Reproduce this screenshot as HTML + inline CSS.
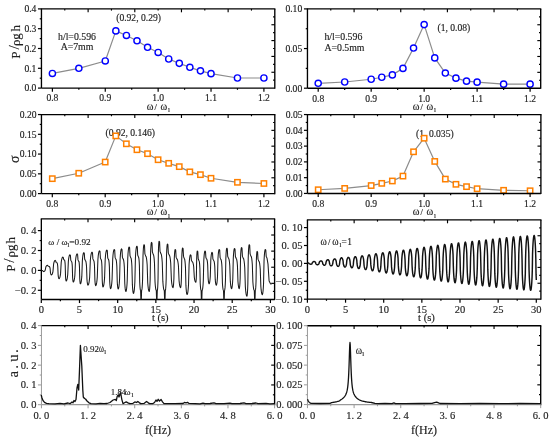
<!DOCTYPE html>
<html><head><meta charset="utf-8"><style>
html,body{margin:0;padding:0;background:#fff;}
svg{display:block;will-change:transform;}
text{fill:#222;stroke:#222;stroke-width:0.15px;}
</style></head><body>
<svg width="550" height="440" viewBox="0 0 550 440">
<rect width="550" height="440" fill="#fff"/>
<text x="116.2" y="20.8" font-size="9.6" text-anchor="start" font-family="Liberation Serif" >(0.92, 0.29)</text>
<polyline points="52.4,73.45 78.84,68.3 105.27,60.97 115.85,30.88 126.42,35.43 137,40.78 147.57,47.31 158.15,52.46 168.72,58.99 179.3,63.35 189.87,67.31 200.45,70.87 211.03,73.65 237.46,78 263.9,78" fill="none" stroke="#8c8c8c" stroke-width="1.2" stroke-linejoin="round" />
<circle cx="52.4" cy="73.45" r="3.1" fill="#fff" stroke="#0000ff" stroke-width="1.4"/>
<circle cx="78.84" cy="68.3" r="3.1" fill="#fff" stroke="#0000ff" stroke-width="1.4"/>
<circle cx="105.27" cy="60.97" r="3.1" fill="#fff" stroke="#0000ff" stroke-width="1.4"/>
<circle cx="115.85" cy="30.88" r="3.1" fill="#fff" stroke="#0000ff" stroke-width="1.4"/>
<circle cx="126.42" cy="35.43" r="3.1" fill="#fff" stroke="#0000ff" stroke-width="1.4"/>
<circle cx="137" cy="40.78" r="3.1" fill="#fff" stroke="#0000ff" stroke-width="1.4"/>
<circle cx="147.57" cy="47.31" r="3.1" fill="#fff" stroke="#0000ff" stroke-width="1.4"/>
<circle cx="158.15" cy="52.46" r="3.1" fill="#fff" stroke="#0000ff" stroke-width="1.4"/>
<circle cx="168.72" cy="58.99" r="3.1" fill="#fff" stroke="#0000ff" stroke-width="1.4"/>
<circle cx="179.3" cy="63.35" r="3.1" fill="#fff" stroke="#0000ff" stroke-width="1.4"/>
<circle cx="189.87" cy="67.31" r="3.1" fill="#fff" stroke="#0000ff" stroke-width="1.4"/>
<circle cx="200.45" cy="70.87" r="3.1" fill="#fff" stroke="#0000ff" stroke-width="1.4"/>
<circle cx="211.03" cy="73.65" r="3.1" fill="#fff" stroke="#0000ff" stroke-width="1.4"/>
<circle cx="237.46" cy="78" r="3.1" fill="#fff" stroke="#0000ff" stroke-width="1.4"/>
<circle cx="263.9" cy="78" r="3.1" fill="#fff" stroke="#0000ff" stroke-width="1.4"/>
<line x1="40.85" y1="8.9" x2="275.4" y2="8.9" stroke="#000" stroke-width="1.35"/>
<line x1="274.8" y1="8.9" x2="274.8" y2="88.7" stroke="#000" stroke-width="1.35"/>
<line x1="41.45" y1="8.9" x2="41.45" y2="88.1" stroke="#000" stroke-width="1.35"/>
<line x1="41.45" y1="88.1" x2="274.8" y2="88.1" stroke="#000" stroke-width="1.35"/>
<line x1="64.78" y1="8.9" x2="64.78" y2="10.6" stroke="#000" stroke-width="1.15"/>
<line x1="88.12" y1="8.9" x2="88.12" y2="12.3" stroke="#000" stroke-width="1.15"/>
<line x1="111.46" y1="8.9" x2="111.46" y2="10.6" stroke="#000" stroke-width="1.15"/>
<line x1="134.79" y1="8.9" x2="134.79" y2="12.3" stroke="#000" stroke-width="1.15"/>
<line x1="158.12" y1="8.9" x2="158.12" y2="10.6" stroke="#000" stroke-width="1.15"/>
<line x1="181.46" y1="8.9" x2="181.46" y2="12.3" stroke="#000" stroke-width="1.15"/>
<line x1="204.8" y1="8.9" x2="204.8" y2="10.6" stroke="#000" stroke-width="1.15"/>
<line x1="228.13" y1="8.9" x2="228.13" y2="12.3" stroke="#000" stroke-width="1.15"/>
<line x1="251.47" y1="8.9" x2="251.47" y2="10.6" stroke="#000" stroke-width="1.15"/>
<line x1="274.8" y1="16.82" x2="273.1" y2="16.82" stroke="#000" stroke-width="1.15"/>
<line x1="274.8" y1="24.74" x2="271.4" y2="24.74" stroke="#000" stroke-width="1.15"/>
<line x1="274.8" y1="32.66" x2="273.1" y2="32.66" stroke="#000" stroke-width="1.15"/>
<line x1="274.8" y1="40.58" x2="271.4" y2="40.58" stroke="#000" stroke-width="1.15"/>
<line x1="274.8" y1="48.5" x2="273.1" y2="48.5" stroke="#000" stroke-width="1.15"/>
<line x1="274.8" y1="56.42" x2="271.4" y2="56.42" stroke="#000" stroke-width="1.15"/>
<line x1="274.8" y1="64.34" x2="273.1" y2="64.34" stroke="#000" stroke-width="1.15"/>
<line x1="274.8" y1="72.26" x2="271.4" y2="72.26" stroke="#000" stroke-width="1.15"/>
<line x1="274.8" y1="80.18" x2="273.1" y2="80.18" stroke="#000" stroke-width="1.15"/>
<line x1="37.95" y1="88.1" x2="41.45" y2="88.1" stroke="#000" stroke-width="1.2"/>
<line x1="37.95" y1="68.3" x2="41.45" y2="68.3" stroke="#000" stroke-width="1.2"/>
<line x1="37.95" y1="48.5" x2="41.45" y2="48.5" stroke="#000" stroke-width="1.2"/>
<line x1="37.95" y1="28.7" x2="41.45" y2="28.7" stroke="#000" stroke-width="1.2"/>
<line x1="37.95" y1="8.9" x2="41.45" y2="8.9" stroke="#000" stroke-width="1.2"/>
<line x1="39.75" y1="78.2" x2="41.45" y2="78.2" stroke="#000" stroke-width="1.2"/>
<line x1="39.75" y1="58.4" x2="41.45" y2="58.4" stroke="#000" stroke-width="1.2"/>
<line x1="39.75" y1="38.6" x2="41.45" y2="38.6" stroke="#000" stroke-width="1.2"/>
<line x1="39.75" y1="18.8" x2="41.45" y2="18.8" stroke="#000" stroke-width="1.2"/>
<line x1="52.4" y1="88.1" x2="52.4" y2="91.7" stroke="#000" stroke-width="1.2"/>
<line x1="105.27" y1="88.1" x2="105.27" y2="91.7" stroke="#000" stroke-width="1.2"/>
<line x1="158.15" y1="88.1" x2="158.15" y2="91.7" stroke="#000" stroke-width="1.2"/>
<line x1="211.03" y1="88.1" x2="211.03" y2="91.7" stroke="#000" stroke-width="1.2"/>
<line x1="263.9" y1="88.1" x2="263.9" y2="91.7" stroke="#000" stroke-width="1.2"/>
<line x1="78.84" y1="88.1" x2="78.84" y2="89.8" stroke="#000" stroke-width="1.2"/>
<line x1="131.71" y1="88.1" x2="131.71" y2="89.8" stroke="#000" stroke-width="1.2"/>
<line x1="184.59" y1="88.1" x2="184.59" y2="89.8" stroke="#000" stroke-width="1.2"/>
<line x1="237.46" y1="88.1" x2="237.46" y2="89.8" stroke="#000" stroke-width="1.2"/>
<text x="36.4" y="91.4" font-size="9.6" text-anchor="end" font-family="Liberation Serif" >0.0</text>
<text x="36.4" y="71.6" font-size="9.6" text-anchor="end" font-family="Liberation Serif" >0.1</text>
<text x="36.4" y="51.8" font-size="9.6" text-anchor="end" font-family="Liberation Serif" >0.2</text>
<text x="36.4" y="32" font-size="9.6" text-anchor="end" font-family="Liberation Serif" >0.3</text>
<text x="36.4" y="12.2" font-size="9.6" text-anchor="end" font-family="Liberation Serif" >0.4</text>
<text x="52.4" y="101.4" font-size="9.6" text-anchor="middle" font-family="Liberation Serif" >0.8</text>
<text x="105.27" y="101.4" font-size="9.6" text-anchor="middle" font-family="Liberation Serif" >0.9</text>
<text x="158.15" y="101.4" font-size="9.6" text-anchor="middle" font-family="Liberation Serif" >1.0</text>
<text x="211.03" y="101.4" font-size="9.6" text-anchor="middle" font-family="Liberation Serif" >1.1</text>
<text x="263.9" y="101.4" font-size="9.6" text-anchor="middle" font-family="Liberation Serif" >1.2</text>
<text x="146.82" y="109.8" font-size="10.2" font-family="Liberation Serif">ω</text>
<text x="154.53" y="109.8" font-size="8.6" font-family="Liberation Serif">/</text>
<text x="160.43" y="109.8" font-size="10.2" font-family="Liberation Serif">ω</text>
<text x="168.03" y="112.2" font-size="7" font-family="Liberation Serif">l</text>
<text x="77" y="39.8" font-size="9.8" text-anchor="middle" font-family="Liberation Serif" >h/l=0.596</text>
<text x="77" y="50.4" font-size="9.8" text-anchor="middle" font-family="Liberation Serif" >A=7mm</text>
<text transform="translate(19.6,58.8) rotate(-90)" font-size="13" font-family="Liberation Serif"><tspan x="0">P</tspan><tspan x="9.3" font-size="15" dy="-0.6">/</tspan><tspan x="12.7" dy="0.6">ρg</tspan><tspan x="27.2">h</tspan></text>
<text x="437.5" y="30.8" font-size="9.6" text-anchor="start" font-family="Liberation Serif" >(1, 0.08)</text>
<polyline points="318.2,83.28 344.69,82.01 371.17,79.24 381.77,77.26 392.36,74.88 402.96,68.38 413.55,48.07 424.15,24.6 434.75,57.91 445.34,73.05 455.94,78.13 466.53,81.14 477.12,82.17 503.61,84.16 530.1,84.16" fill="none" stroke="#8c8c8c" stroke-width="1.2" stroke-linejoin="round" />
<circle cx="318.2" cy="83.28" r="3.1" fill="#fff" stroke="#0000ff" stroke-width="1.4"/>
<circle cx="344.69" cy="82.01" r="3.1" fill="#fff" stroke="#0000ff" stroke-width="1.4"/>
<circle cx="371.17" cy="79.24" r="3.1" fill="#fff" stroke="#0000ff" stroke-width="1.4"/>
<circle cx="381.77" cy="77.26" r="3.1" fill="#fff" stroke="#0000ff" stroke-width="1.4"/>
<circle cx="392.36" cy="74.88" r="3.1" fill="#fff" stroke="#0000ff" stroke-width="1.4"/>
<circle cx="402.96" cy="68.38" r="3.1" fill="#fff" stroke="#0000ff" stroke-width="1.4"/>
<circle cx="413.55" cy="48.07" r="3.1" fill="#fff" stroke="#0000ff" stroke-width="1.4"/>
<circle cx="424.15" cy="24.6" r="3.1" fill="#fff" stroke="#0000ff" stroke-width="1.4"/>
<circle cx="434.75" cy="57.91" r="3.1" fill="#fff" stroke="#0000ff" stroke-width="1.4"/>
<circle cx="445.34" cy="73.05" r="3.1" fill="#fff" stroke="#0000ff" stroke-width="1.4"/>
<circle cx="455.94" cy="78.13" r="3.1" fill="#fff" stroke="#0000ff" stroke-width="1.4"/>
<circle cx="466.53" cy="81.14" r="3.1" fill="#fff" stroke="#0000ff" stroke-width="1.4"/>
<circle cx="477.12" cy="82.17" r="3.1" fill="#fff" stroke="#0000ff" stroke-width="1.4"/>
<circle cx="503.61" cy="84.16" r="3.1" fill="#fff" stroke="#0000ff" stroke-width="1.4"/>
<circle cx="530.1" cy="84.16" r="3.1" fill="#fff" stroke="#0000ff" stroke-width="1.4"/>
<line x1="306.85" y1="8.9" x2="541.3" y2="8.9" stroke="#000" stroke-width="1.35"/>
<line x1="540.7" y1="8.9" x2="540.7" y2="88.8" stroke="#000" stroke-width="1.35"/>
<line x1="307.45" y1="8.9" x2="307.45" y2="88.2" stroke="#000" stroke-width="1.35"/>
<line x1="307.45" y1="88.2" x2="540.7" y2="88.2" stroke="#000" stroke-width="1.35"/>
<line x1="330.77" y1="8.9" x2="330.77" y2="10.6" stroke="#000" stroke-width="1.15"/>
<line x1="354.1" y1="8.9" x2="354.1" y2="12.3" stroke="#000" stroke-width="1.15"/>
<line x1="377.43" y1="8.9" x2="377.43" y2="10.6" stroke="#000" stroke-width="1.15"/>
<line x1="400.75" y1="8.9" x2="400.75" y2="12.3" stroke="#000" stroke-width="1.15"/>
<line x1="424.08" y1="8.9" x2="424.08" y2="10.6" stroke="#000" stroke-width="1.15"/>
<line x1="447.4" y1="8.9" x2="447.4" y2="12.3" stroke="#000" stroke-width="1.15"/>
<line x1="470.73" y1="8.9" x2="470.73" y2="10.6" stroke="#000" stroke-width="1.15"/>
<line x1="494.05" y1="8.9" x2="494.05" y2="12.3" stroke="#000" stroke-width="1.15"/>
<line x1="517.38" y1="8.9" x2="517.38" y2="10.6" stroke="#000" stroke-width="1.15"/>
<line x1="540.7" y1="16.83" x2="539" y2="16.83" stroke="#000" stroke-width="1.15"/>
<line x1="540.7" y1="24.76" x2="537.3" y2="24.76" stroke="#000" stroke-width="1.15"/>
<line x1="540.7" y1="32.69" x2="539" y2="32.69" stroke="#000" stroke-width="1.15"/>
<line x1="540.7" y1="40.62" x2="537.3" y2="40.62" stroke="#000" stroke-width="1.15"/>
<line x1="540.7" y1="48.55" x2="539" y2="48.55" stroke="#000" stroke-width="1.15"/>
<line x1="540.7" y1="56.48" x2="537.3" y2="56.48" stroke="#000" stroke-width="1.15"/>
<line x1="540.7" y1="64.41" x2="539" y2="64.41" stroke="#000" stroke-width="1.15"/>
<line x1="540.7" y1="72.34" x2="537.3" y2="72.34" stroke="#000" stroke-width="1.15"/>
<line x1="540.7" y1="80.27" x2="539" y2="80.27" stroke="#000" stroke-width="1.15"/>
<line x1="303.95" y1="88.2" x2="307.45" y2="88.2" stroke="#000" stroke-width="1.2"/>
<line x1="303.95" y1="48.55" x2="307.45" y2="48.55" stroke="#000" stroke-width="1.2"/>
<line x1="303.95" y1="8.9" x2="307.45" y2="8.9" stroke="#000" stroke-width="1.2"/>
<line x1="305.75" y1="68.38" x2="307.45" y2="68.38" stroke="#000" stroke-width="1.2"/>
<line x1="305.75" y1="28.73" x2="307.45" y2="28.73" stroke="#000" stroke-width="1.2"/>
<line x1="318.2" y1="88.2" x2="318.2" y2="91.8" stroke="#000" stroke-width="1.2"/>
<line x1="371.17" y1="88.2" x2="371.17" y2="91.8" stroke="#000" stroke-width="1.2"/>
<line x1="424.15" y1="88.2" x2="424.15" y2="91.8" stroke="#000" stroke-width="1.2"/>
<line x1="477.12" y1="88.2" x2="477.12" y2="91.8" stroke="#000" stroke-width="1.2"/>
<line x1="530.1" y1="88.2" x2="530.1" y2="91.8" stroke="#000" stroke-width="1.2"/>
<line x1="344.69" y1="88.2" x2="344.69" y2="89.9" stroke="#000" stroke-width="1.2"/>
<line x1="397.66" y1="88.2" x2="397.66" y2="89.9" stroke="#000" stroke-width="1.2"/>
<line x1="450.64" y1="88.2" x2="450.64" y2="89.9" stroke="#000" stroke-width="1.2"/>
<line x1="503.61" y1="88.2" x2="503.61" y2="89.9" stroke="#000" stroke-width="1.2"/>
<text x="302.2" y="91.5" font-size="9.6" text-anchor="end" font-family="Liberation Serif" >0.00</text>
<text x="302.2" y="51.85" font-size="9.6" text-anchor="end" font-family="Liberation Serif" >0.05</text>
<text x="302.2" y="12.2" font-size="9.6" text-anchor="end" font-family="Liberation Serif" >0.10</text>
<text x="318.2" y="101.5" font-size="9.6" text-anchor="middle" font-family="Liberation Serif" >0.8</text>
<text x="371.17" y="101.5" font-size="9.6" text-anchor="middle" font-family="Liberation Serif" >0.9</text>
<text x="424.15" y="101.5" font-size="9.6" text-anchor="middle" font-family="Liberation Serif" >1.0</text>
<text x="477.12" y="101.5" font-size="9.6" text-anchor="middle" font-family="Liberation Serif" >1.1</text>
<text x="530.1" y="101.5" font-size="9.6" text-anchor="middle" font-family="Liberation Serif" >1.2</text>
<text x="412.78" y="109.9" font-size="10.2" font-family="Liberation Serif">ω</text>
<text x="420.48" y="109.9" font-size="8.6" font-family="Liberation Serif">/</text>
<text x="426.38" y="109.9" font-size="10.2" font-family="Liberation Serif">ω</text>
<text x="433.98" y="112.3" font-size="7" font-family="Liberation Serif">l</text>
<text x="324.4" y="40.3" font-size="9.8" text-anchor="start" font-family="Liberation Serif" >h/l=0.596</text>
<text x="324.4" y="50.7" font-size="9.8" text-anchor="start" font-family="Liberation Serif" >A=0.5mm</text>

<text x="105.5" y="135.7" font-size="9.6" text-anchor="start" font-family="Liberation Serif" >(0.92, 0.146)</text>
<polyline points="52.3,178.66 78.75,173.24 105.2,162.06 115.78,135.89 126.36,143.8 136.94,149.73 147.52,153.68 158.1,159.73 168.68,163.32 179.26,166.64 189.84,171.86 200.42,174.67 211,178.26 237.45,182.3 263.9,183.48" fill="none" stroke="#8c8c8c" stroke-width="1.2" stroke-linejoin="round" />
<rect x="49.65" y="176.01" width="5.3" height="5.3" fill="#fff" stroke="#ff8000" stroke-width="1.5"/>
<rect x="76.1" y="170.59" width="5.3" height="5.3" fill="#fff" stroke="#ff8000" stroke-width="1.5"/>
<rect x="102.55" y="159.41" width="5.3" height="5.3" fill="#fff" stroke="#ff8000" stroke-width="1.5"/>
<rect x="113.13" y="133.24" width="5.3" height="5.3" fill="#fff" stroke="#ff8000" stroke-width="1.5"/>
<rect x="123.71" y="141.15" width="5.3" height="5.3" fill="#fff" stroke="#ff8000" stroke-width="1.5"/>
<rect x="134.29" y="147.08" width="5.3" height="5.3" fill="#fff" stroke="#ff8000" stroke-width="1.5"/>
<rect x="144.87" y="151.03" width="5.3" height="5.3" fill="#fff" stroke="#ff8000" stroke-width="1.5"/>
<rect x="155.45" y="157.08" width="5.3" height="5.3" fill="#fff" stroke="#ff8000" stroke-width="1.5"/>
<rect x="166.03" y="160.67" width="5.3" height="5.3" fill="#fff" stroke="#ff8000" stroke-width="1.5"/>
<rect x="176.61" y="163.99" width="5.3" height="5.3" fill="#fff" stroke="#ff8000" stroke-width="1.5"/>
<rect x="187.19" y="169.21" width="5.3" height="5.3" fill="#fff" stroke="#ff8000" stroke-width="1.5"/>
<rect x="197.77" y="172.02" width="5.3" height="5.3" fill="#fff" stroke="#ff8000" stroke-width="1.5"/>
<rect x="208.35" y="175.61" width="5.3" height="5.3" fill="#fff" stroke="#ff8000" stroke-width="1.5"/>
<rect x="234.8" y="179.65" width="5.3" height="5.3" fill="#fff" stroke="#ff8000" stroke-width="1.5"/>
<rect x="261.25" y="180.83" width="5.3" height="5.3" fill="#fff" stroke="#ff8000" stroke-width="1.5"/>
<line x1="40.85" y1="114.55" x2="275.4" y2="114.55" stroke="#000" stroke-width="1.35"/>
<line x1="274.8" y1="114.55" x2="274.8" y2="194.2" stroke="#000" stroke-width="1.35"/>
<line x1="41.45" y1="114.55" x2="41.45" y2="193.6" stroke="#000" stroke-width="1.35"/>
<line x1="41.45" y1="193.6" x2="274.8" y2="193.6" stroke="#000" stroke-width="1.35"/>
<line x1="64.78" y1="114.55" x2="64.78" y2="116.25" stroke="#000" stroke-width="1.15"/>
<line x1="88.12" y1="114.55" x2="88.12" y2="117.95" stroke="#000" stroke-width="1.15"/>
<line x1="111.46" y1="114.55" x2="111.46" y2="116.25" stroke="#000" stroke-width="1.15"/>
<line x1="134.79" y1="114.55" x2="134.79" y2="117.95" stroke="#000" stroke-width="1.15"/>
<line x1="158.12" y1="114.55" x2="158.12" y2="116.25" stroke="#000" stroke-width="1.15"/>
<line x1="181.46" y1="114.55" x2="181.46" y2="117.95" stroke="#000" stroke-width="1.15"/>
<line x1="204.8" y1="114.55" x2="204.8" y2="116.25" stroke="#000" stroke-width="1.15"/>
<line x1="228.13" y1="114.55" x2="228.13" y2="117.95" stroke="#000" stroke-width="1.15"/>
<line x1="251.47" y1="114.55" x2="251.47" y2="116.25" stroke="#000" stroke-width="1.15"/>
<line x1="274.8" y1="122.45" x2="273.1" y2="122.45" stroke="#000" stroke-width="1.15"/>
<line x1="274.8" y1="130.36" x2="271.4" y2="130.36" stroke="#000" stroke-width="1.15"/>
<line x1="274.8" y1="138.26" x2="273.1" y2="138.26" stroke="#000" stroke-width="1.15"/>
<line x1="274.8" y1="146.17" x2="271.4" y2="146.17" stroke="#000" stroke-width="1.15"/>
<line x1="274.8" y1="154.07" x2="273.1" y2="154.07" stroke="#000" stroke-width="1.15"/>
<line x1="274.8" y1="161.98" x2="271.4" y2="161.98" stroke="#000" stroke-width="1.15"/>
<line x1="274.8" y1="169.88" x2="273.1" y2="169.88" stroke="#000" stroke-width="1.15"/>
<line x1="274.8" y1="177.79" x2="271.4" y2="177.79" stroke="#000" stroke-width="1.15"/>
<line x1="274.8" y1="185.69" x2="273.1" y2="185.69" stroke="#000" stroke-width="1.15"/>
<line x1="37.95" y1="193.6" x2="41.45" y2="193.6" stroke="#000" stroke-width="1.2"/>
<line x1="37.95" y1="173.84" x2="41.45" y2="173.84" stroke="#000" stroke-width="1.2"/>
<line x1="37.95" y1="154.07" x2="41.45" y2="154.07" stroke="#000" stroke-width="1.2"/>
<line x1="37.95" y1="134.31" x2="41.45" y2="134.31" stroke="#000" stroke-width="1.2"/>
<line x1="37.95" y1="114.55" x2="41.45" y2="114.55" stroke="#000" stroke-width="1.2"/>
<line x1="39.75" y1="183.72" x2="41.45" y2="183.72" stroke="#000" stroke-width="1.2"/>
<line x1="39.75" y1="163.96" x2="41.45" y2="163.96" stroke="#000" stroke-width="1.2"/>
<line x1="39.75" y1="144.19" x2="41.45" y2="144.19" stroke="#000" stroke-width="1.2"/>
<line x1="39.75" y1="124.43" x2="41.45" y2="124.43" stroke="#000" stroke-width="1.2"/>
<line x1="52.3" y1="193.6" x2="52.3" y2="197.2" stroke="#000" stroke-width="1.2"/>
<line x1="105.2" y1="193.6" x2="105.2" y2="197.2" stroke="#000" stroke-width="1.2"/>
<line x1="158.1" y1="193.6" x2="158.1" y2="197.2" stroke="#000" stroke-width="1.2"/>
<line x1="211" y1="193.6" x2="211" y2="197.2" stroke="#000" stroke-width="1.2"/>
<line x1="263.9" y1="193.6" x2="263.9" y2="197.2" stroke="#000" stroke-width="1.2"/>
<line x1="78.75" y1="193.6" x2="78.75" y2="195.3" stroke="#000" stroke-width="1.2"/>
<line x1="131.65" y1="193.6" x2="131.65" y2="195.3" stroke="#000" stroke-width="1.2"/>
<line x1="184.55" y1="193.6" x2="184.55" y2="195.3" stroke="#000" stroke-width="1.2"/>
<line x1="237.45" y1="193.6" x2="237.45" y2="195.3" stroke="#000" stroke-width="1.2"/>
<text x="36.6" y="196.9" font-size="9.6" text-anchor="end" font-family="Liberation Serif" >0.00</text>
<text x="36.6" y="177.14" font-size="9.6" text-anchor="end" font-family="Liberation Serif" >0.05</text>
<text x="36.6" y="157.38" font-size="9.6" text-anchor="end" font-family="Liberation Serif" >0.10</text>
<text x="36.6" y="137.61" font-size="9.6" text-anchor="end" font-family="Liberation Serif" >0.15</text>
<text x="36.6" y="117.85" font-size="9.6" text-anchor="end" font-family="Liberation Serif" >0.20</text>
<text x="52.3" y="206.9" font-size="9.6" text-anchor="middle" font-family="Liberation Serif" >0.8</text>
<text x="105.2" y="206.9" font-size="9.6" text-anchor="middle" font-family="Liberation Serif" >0.9</text>
<text x="158.1" y="206.9" font-size="9.6" text-anchor="middle" font-family="Liberation Serif" >1.0</text>
<text x="211" y="206.9" font-size="9.6" text-anchor="middle" font-family="Liberation Serif" >1.1</text>
<text x="263.9" y="206.9" font-size="9.6" text-anchor="middle" font-family="Liberation Serif" >1.2</text>
<text x="146.82" y="215.3" font-size="10.2" font-family="Liberation Serif">ω</text>
<text x="154.53" y="215.3" font-size="8.6" font-family="Liberation Serif">/</text>
<text x="160.43" y="215.3" font-size="10.2" font-family="Liberation Serif">ω</text>
<text x="168.03" y="217.7" font-size="7" font-family="Liberation Serif">l</text>
<text transform="translate(19.1,159.2) rotate(-90)" font-size="14" text-anchor="middle" font-family="Liberation Serif">σ</text>
<text x="416.1" y="137" font-size="9.6" text-anchor="start" font-family="Liberation Serif" >(1, 0.035)</text>
<polyline points="318.2,189.74 344.69,188.4 371.17,185.56 381.77,183.35 392.36,180.98 402.96,176.09 413.55,151.79 424.15,138.22 434.75,161.42 445.34,179.09 455.94,184.3 466.53,186.66 477.12,188.72 503.61,190.29 530.1,190.77" fill="none" stroke="#8c8c8c" stroke-width="1.2" stroke-linejoin="round" />
<rect x="315.55" y="187.09" width="5.3" height="5.3" fill="#fff" stroke="#ff8000" stroke-width="1.5"/>
<rect x="342.04" y="185.75" width="5.3" height="5.3" fill="#fff" stroke="#ff8000" stroke-width="1.5"/>
<rect x="368.52" y="182.91" width="5.3" height="5.3" fill="#fff" stroke="#ff8000" stroke-width="1.5"/>
<rect x="379.12" y="180.7" width="5.3" height="5.3" fill="#fff" stroke="#ff8000" stroke-width="1.5"/>
<rect x="389.71" y="178.33" width="5.3" height="5.3" fill="#fff" stroke="#ff8000" stroke-width="1.5"/>
<rect x="400.31" y="173.44" width="5.3" height="5.3" fill="#fff" stroke="#ff8000" stroke-width="1.5"/>
<rect x="410.9" y="149.14" width="5.3" height="5.3" fill="#fff" stroke="#ff8000" stroke-width="1.5"/>
<rect x="421.5" y="135.57" width="5.3" height="5.3" fill="#fff" stroke="#ff8000" stroke-width="1.5"/>
<rect x="432.1" y="158.77" width="5.3" height="5.3" fill="#fff" stroke="#ff8000" stroke-width="1.5"/>
<rect x="442.69" y="176.44" width="5.3" height="5.3" fill="#fff" stroke="#ff8000" stroke-width="1.5"/>
<rect x="453.29" y="181.65" width="5.3" height="5.3" fill="#fff" stroke="#ff8000" stroke-width="1.5"/>
<rect x="463.88" y="184.01" width="5.3" height="5.3" fill="#fff" stroke="#ff8000" stroke-width="1.5"/>
<rect x="474.48" y="186.07" width="5.3" height="5.3" fill="#fff" stroke="#ff8000" stroke-width="1.5"/>
<rect x="500.96" y="187.64" width="5.3" height="5.3" fill="#fff" stroke="#ff8000" stroke-width="1.5"/>
<rect x="527.45" y="188.12" width="5.3" height="5.3" fill="#fff" stroke="#ff8000" stroke-width="1.5"/>
<line x1="306.85" y1="114.55" x2="541.5" y2="114.55" stroke="#000" stroke-width="1.35"/>
<line x1="540.9" y1="114.55" x2="540.9" y2="194.05" stroke="#000" stroke-width="1.35"/>
<line x1="307.45" y1="114.55" x2="307.45" y2="193.45" stroke="#000" stroke-width="1.35"/>
<line x1="307.45" y1="193.45" x2="540.9" y2="193.45" stroke="#000" stroke-width="1.35"/>
<line x1="330.79" y1="114.55" x2="330.79" y2="116.25" stroke="#000" stroke-width="1.15"/>
<line x1="354.14" y1="114.55" x2="354.14" y2="117.95" stroke="#000" stroke-width="1.15"/>
<line x1="377.49" y1="114.55" x2="377.49" y2="116.25" stroke="#000" stroke-width="1.15"/>
<line x1="400.83" y1="114.55" x2="400.83" y2="117.95" stroke="#000" stroke-width="1.15"/>
<line x1="424.17" y1="114.55" x2="424.17" y2="116.25" stroke="#000" stroke-width="1.15"/>
<line x1="447.52" y1="114.55" x2="447.52" y2="117.95" stroke="#000" stroke-width="1.15"/>
<line x1="470.87" y1="114.55" x2="470.87" y2="116.25" stroke="#000" stroke-width="1.15"/>
<line x1="494.21" y1="114.55" x2="494.21" y2="117.95" stroke="#000" stroke-width="1.15"/>
<line x1="517.55" y1="114.55" x2="517.55" y2="116.25" stroke="#000" stroke-width="1.15"/>
<line x1="540.9" y1="122.44" x2="539.2" y2="122.44" stroke="#000" stroke-width="1.15"/>
<line x1="540.9" y1="130.33" x2="537.5" y2="130.33" stroke="#000" stroke-width="1.15"/>
<line x1="540.9" y1="138.22" x2="539.2" y2="138.22" stroke="#000" stroke-width="1.15"/>
<line x1="540.9" y1="146.11" x2="537.5" y2="146.11" stroke="#000" stroke-width="1.15"/>
<line x1="540.9" y1="154" x2="539.2" y2="154" stroke="#000" stroke-width="1.15"/>
<line x1="540.9" y1="161.89" x2="537.5" y2="161.89" stroke="#000" stroke-width="1.15"/>
<line x1="540.9" y1="169.78" x2="539.2" y2="169.78" stroke="#000" stroke-width="1.15"/>
<line x1="540.9" y1="177.67" x2="537.5" y2="177.67" stroke="#000" stroke-width="1.15"/>
<line x1="540.9" y1="185.56" x2="539.2" y2="185.56" stroke="#000" stroke-width="1.15"/>
<line x1="303.95" y1="193.45" x2="307.45" y2="193.45" stroke="#000" stroke-width="1.2"/>
<line x1="303.95" y1="177.67" x2="307.45" y2="177.67" stroke="#000" stroke-width="1.2"/>
<line x1="303.95" y1="161.89" x2="307.45" y2="161.89" stroke="#000" stroke-width="1.2"/>
<line x1="303.95" y1="146.11" x2="307.45" y2="146.11" stroke="#000" stroke-width="1.2"/>
<line x1="303.95" y1="130.33" x2="307.45" y2="130.33" stroke="#000" stroke-width="1.2"/>
<line x1="303.95" y1="114.55" x2="307.45" y2="114.55" stroke="#000" stroke-width="1.2"/>
<line x1="305.75" y1="185.56" x2="307.45" y2="185.56" stroke="#000" stroke-width="1.2"/>
<line x1="305.75" y1="169.78" x2="307.45" y2="169.78" stroke="#000" stroke-width="1.2"/>
<line x1="305.75" y1="154" x2="307.45" y2="154" stroke="#000" stroke-width="1.2"/>
<line x1="305.75" y1="138.22" x2="307.45" y2="138.22" stroke="#000" stroke-width="1.2"/>
<line x1="305.75" y1="122.44" x2="307.45" y2="122.44" stroke="#000" stroke-width="1.2"/>
<line x1="318.2" y1="193.45" x2="318.2" y2="197.05" stroke="#000" stroke-width="1.2"/>
<line x1="371.17" y1="193.45" x2="371.17" y2="197.05" stroke="#000" stroke-width="1.2"/>
<line x1="424.15" y1="193.45" x2="424.15" y2="197.05" stroke="#000" stroke-width="1.2"/>
<line x1="477.12" y1="193.45" x2="477.12" y2="197.05" stroke="#000" stroke-width="1.2"/>
<line x1="530.1" y1="193.45" x2="530.1" y2="197.05" stroke="#000" stroke-width="1.2"/>
<line x1="344.69" y1="193.45" x2="344.69" y2="195.15" stroke="#000" stroke-width="1.2"/>
<line x1="397.66" y1="193.45" x2="397.66" y2="195.15" stroke="#000" stroke-width="1.2"/>
<line x1="450.64" y1="193.45" x2="450.64" y2="195.15" stroke="#000" stroke-width="1.2"/>
<line x1="503.61" y1="193.45" x2="503.61" y2="195.15" stroke="#000" stroke-width="1.2"/>
<text x="302.6" y="196.75" font-size="9.6" text-anchor="end" font-family="Liberation Serif" >0.00</text>
<text x="302.6" y="180.97" font-size="9.6" text-anchor="end" font-family="Liberation Serif" >0.01</text>
<text x="302.6" y="165.19" font-size="9.6" text-anchor="end" font-family="Liberation Serif" >0.02</text>
<text x="302.6" y="149.41" font-size="9.6" text-anchor="end" font-family="Liberation Serif" >0.03</text>
<text x="302.6" y="133.63" font-size="9.6" text-anchor="end" font-family="Liberation Serif" >0.04</text>
<text x="302.6" y="117.85" font-size="9.6" text-anchor="end" font-family="Liberation Serif" >0.05</text>
<text x="318.2" y="206.75" font-size="9.6" text-anchor="middle" font-family="Liberation Serif" >0.8</text>
<text x="371.17" y="206.75" font-size="9.6" text-anchor="middle" font-family="Liberation Serif" >0.9</text>
<text x="424.15" y="206.75" font-size="9.6" text-anchor="middle" font-family="Liberation Serif" >1.0</text>
<text x="477.12" y="206.75" font-size="9.6" text-anchor="middle" font-family="Liberation Serif" >1.1</text>
<text x="530.1" y="206.75" font-size="9.6" text-anchor="middle" font-family="Liberation Serif" >1.2</text>
<text x="412.87" y="215.15" font-size="10.2" font-family="Liberation Serif">ω</text>
<text x="420.57" y="215.15" font-size="8.6" font-family="Liberation Serif">/</text>
<text x="426.47" y="215.15" font-size="10.2" font-family="Liberation Serif">ω</text>
<text x="434.07" y="217.55" font-size="7" font-family="Liberation Serif">l</text>

<line x1="40.75" y1="218.9" x2="275.2" y2="218.9" stroke="#000" stroke-width="1.35"/>
<line x1="274.6" y1="218.9" x2="274.6" y2="300.05" stroke="#000" stroke-width="1.35"/>
<line x1="41.35" y1="218.9" x2="41.35" y2="299.45" stroke="#000" stroke-width="1.35"/>
<line x1="41.35" y1="299.45" x2="274.6" y2="299.45" stroke="#000" stroke-width="1.35"/>
<line x1="64.68" y1="218.9" x2="64.68" y2="220.6" stroke="#000" stroke-width="1.15"/>
<line x1="88" y1="218.9" x2="88" y2="222.3" stroke="#000" stroke-width="1.15"/>
<line x1="111.33" y1="218.9" x2="111.33" y2="220.6" stroke="#000" stroke-width="1.15"/>
<line x1="134.65" y1="218.9" x2="134.65" y2="222.3" stroke="#000" stroke-width="1.15"/>
<line x1="157.98" y1="218.9" x2="157.98" y2="220.6" stroke="#000" stroke-width="1.15"/>
<line x1="181.3" y1="218.9" x2="181.3" y2="222.3" stroke="#000" stroke-width="1.15"/>
<line x1="204.63" y1="218.9" x2="204.63" y2="220.6" stroke="#000" stroke-width="1.15"/>
<line x1="227.95" y1="218.9" x2="227.95" y2="222.3" stroke="#000" stroke-width="1.15"/>
<line x1="251.28" y1="218.9" x2="251.28" y2="220.6" stroke="#000" stroke-width="1.15"/>
<line x1="274.6" y1="226.96" x2="272.9" y2="226.96" stroke="#000" stroke-width="1.15"/>
<line x1="274.6" y1="235.01" x2="271.2" y2="235.01" stroke="#000" stroke-width="1.15"/>
<line x1="274.6" y1="243.06" x2="272.9" y2="243.06" stroke="#000" stroke-width="1.15"/>
<line x1="274.6" y1="251.12" x2="271.2" y2="251.12" stroke="#000" stroke-width="1.15"/>
<line x1="274.6" y1="259.18" x2="272.9" y2="259.18" stroke="#000" stroke-width="1.15"/>
<line x1="274.6" y1="267.23" x2="271.2" y2="267.23" stroke="#000" stroke-width="1.15"/>
<line x1="274.6" y1="275.28" x2="272.9" y2="275.28" stroke="#000" stroke-width="1.15"/>
<line x1="274.6" y1="283.34" x2="271.2" y2="283.34" stroke="#000" stroke-width="1.15"/>
<line x1="274.6" y1="291.39" x2="272.9" y2="291.39" stroke="#000" stroke-width="1.15"/>
<line x1="37.85" y1="290.3" x2="41.35" y2="290.3" stroke="#000" stroke-width="1.2"/>
<line x1="37.85" y1="270.4" x2="41.35" y2="270.4" stroke="#000" stroke-width="1.2"/>
<line x1="37.85" y1="250.5" x2="41.35" y2="250.5" stroke="#000" stroke-width="1.2"/>
<line x1="37.85" y1="230.6" x2="41.35" y2="230.6" stroke="#000" stroke-width="1.2"/>
<line x1="39.65" y1="280.35" x2="41.35" y2="280.35" stroke="#000" stroke-width="1.2"/>
<line x1="39.65" y1="260.45" x2="41.35" y2="260.45" stroke="#000" stroke-width="1.2"/>
<line x1="39.65" y1="240.55" x2="41.35" y2="240.55" stroke="#000" stroke-width="1.2"/>
<line x1="41.3" y1="299.45" x2="41.3" y2="303.05" stroke="#000" stroke-width="1.2"/>
<line x1="79.48" y1="299.45" x2="79.48" y2="303.05" stroke="#000" stroke-width="1.2"/>
<line x1="117.67" y1="299.45" x2="117.67" y2="303.05" stroke="#000" stroke-width="1.2"/>
<line x1="155.85" y1="299.45" x2="155.85" y2="303.05" stroke="#000" stroke-width="1.2"/>
<line x1="194.04" y1="299.45" x2="194.04" y2="303.05" stroke="#000" stroke-width="1.2"/>
<line x1="232.22" y1="299.45" x2="232.22" y2="303.05" stroke="#000" stroke-width="1.2"/>
<line x1="270.41" y1="299.45" x2="270.41" y2="303.05" stroke="#000" stroke-width="1.2"/>
<line x1="60.39" y1="299.45" x2="60.39" y2="301.15" stroke="#000" stroke-width="1.2"/>
<line x1="98.58" y1="299.45" x2="98.58" y2="301.15" stroke="#000" stroke-width="1.2"/>
<line x1="136.76" y1="299.45" x2="136.76" y2="301.15" stroke="#000" stroke-width="1.2"/>
<line x1="174.95" y1="299.45" x2="174.95" y2="301.15" stroke="#000" stroke-width="1.2"/>
<line x1="213.13" y1="299.45" x2="213.13" y2="301.15" stroke="#000" stroke-width="1.2"/>
<line x1="251.32" y1="299.45" x2="251.32" y2="301.15" stroke="#000" stroke-width="1.2"/>
<text x="36.6" y="293.7" font-size="10.5" text-anchor="end" font-family="Liberation Serif" >−0. 2</text>
<text x="36.6" y="273.8" font-size="10.5" text-anchor="end" font-family="Liberation Serif" >0. 0</text>
<text x="36.6" y="253.9" font-size="10.5" text-anchor="end" font-family="Liberation Serif" >0. 2</text>
<text x="36.6" y="234" font-size="10.5" text-anchor="end" font-family="Liberation Serif" >0. 4</text>
<text x="41.3" y="313.05" font-size="10.5" text-anchor="middle" font-family="Liberation Serif" >0</text>
<text x="79.48" y="313.05" font-size="10.5" text-anchor="middle" font-family="Liberation Serif" >5</text>
<text x="117.67" y="313.05" font-size="10.5" text-anchor="middle" font-family="Liberation Serif" >10</text>
<text x="155.85" y="313.05" font-size="10.5" text-anchor="middle" font-family="Liberation Serif" >15</text>
<text x="194.04" y="313.05" font-size="10.5" text-anchor="middle" font-family="Liberation Serif" >20</text>
<text x="232.22" y="313.05" font-size="10.5" text-anchor="middle" font-family="Liberation Serif" >25</text>
<text x="270.41" y="313.05" font-size="10.5" text-anchor="middle" font-family="Liberation Serif" >30</text>
<text x="160.28" y="321.3" font-size="10.6" text-anchor="middle" font-family="Liberation Serif" >t (s)</text>
<svg x="0" y="0" width="550" height="440" overflow="hidden"><defs><clipPath id="cE"><rect x="41.35" y="218.9" width="233.25" height="80.55"/></clipPath></defs></svg>
<polyline points="41.2,270.4 42.5,270.6 43.6,271.6 43.93,271.55 44.25,271.38 44.58,271.1 44.9,270.68 45.23,270.05 45.55,268.45 45.88,266.85 46.2,266.22 46.52,265.8 46.85,265.52 47.17,265.35 47.5,265.3 48,265.9 48.4,266.26 48.7,266.36 49.2,266.5 49.38,266.57 49.57,266.79 49.75,267.17 49.93,267.73 50.12,268.56 50.3,270.7 50.48,272.84 50.67,273.67 50.85,274.23 51.03,274.61 51.22,274.83 51.4,274.9 51.72,274.78 52.03,274.4 52.35,273.75 52.67,272.78 52.98,271.34 53.3,267.65 53.62,263.96 53.93,262.52 54.25,261.55 54.57,260.9 54.88,260.52 55.2,260.4 55.7,261 56.1,262.23 56.4,262.41 56.9,262.69 57.08,262.83 57.25,263.24 57.43,263.96 57.6,265.03 57.78,266.62 57.95,270.69 58.12,274.77 58.3,276.36 58.48,277.43 58.65,278.14 58.83,278.56 59,278.7 59.32,278.51 59.63,277.95 59.95,276.98 60.27,275.54 60.58,273.39 60.9,267.9 61.22,262.41 61.53,260.26 61.85,258.82 62.17,257.85 62.48,257.29 62.8,257.1 63.3,257.7 63.7,259.49 64,259.73 64.5,260.09 64.64,260.27 64.78,260.81 64.92,261.75 65.07,263.15 65.21,265.22 65.35,270.54 65.49,275.86 65.63,277.94 65.78,279.34 65.92,280.27 66.06,280.82 66.2,281 66.51,280.77 66.82,280.09 67.12,278.92 67.43,277.16 67.74,274.56 68.05,267.9 68.36,261.24 68.67,258.64 68.98,256.88 69.28,255.71 69.59,255.03 69.9,254.8 70.4,255.4 70.8,260.24 71.1,260.78 71.6,261.6 71.74,261.78 71.88,262.31 72.03,263.22 72.17,264.59 72.31,266.61 72.45,271.8 72.59,276.99 72.73,279.01 72.88,280.38 73.02,281.29 73.16,281.82 73.3,282 73.62,281.76 73.93,281.02 74.25,279.76 74.57,277.88 74.88,275.1 75.2,267.95 75.52,260.8 75.83,258.02 76.15,256.14 76.47,254.88 76.78,254.14 77.1,253.9 77.6,254.5 78,259.88 78.3,260.48 78.8,261.38 78.93,261.57 79.07,262.15 79.2,263.16 79.33,264.66 79.47,266.88 79.6,272.59 79.73,278.29 79.87,280.52 80,282.02 80.13,283.02 80.27,283.61 80.4,283.8 80.68,283.53 80.97,282.72 81.25,281.33 81.53,279.25 81.82,276.16 82.1,268.25 82.38,260.34 82.67,257.25 82.95,255.17 83.23,253.78 83.52,252.97 83.8,252.7 84.3,253.3 84.7,259.2 85,259.85 85.5,260.82 85.71,261.03 85.92,261.67 86.12,262.76 86.33,264.39 86.54,266.81 86.75,273.01 86.96,279.21 87.17,281.63 87.38,283.26 87.58,284.35 87.79,284.99 88,285.2 88.33,284.92 88.67,284.05 89,282.57 89.33,280.37 89.67,277.09 90,268.7 90.33,260.31 90.67,257.03 91,254.83 91.33,253.35 91.67,252.48 92,252.2 92.5,252.8 92.9,258.9 93.2,259.57 93.7,260.57 93.87,260.79 94.03,261.45 94.2,262.57 94.37,264.25 94.53,266.75 94.7,273.14 94.87,279.53 95.03,282.02 95.2,283.7 95.37,284.83 95.53,285.48 95.7,285.7 96.02,285.4 96.33,284.49 96.65,282.92 96.97,280.59 97.28,277.13 97.6,268.25 97.92,259.37 98.23,255.91 98.55,253.58 98.87,252.01 99.18,251.1 99.5,250.8 100,251.4 100.4,258.04 100.7,258.76 101.2,259.85 101.35,260.08 101.5,260.79 101.65,262.01 101.8,263.83 101.95,266.52 102.1,273.42 102.25,280.33 102.4,283.02 102.55,284.84 102.7,286.06 102.85,286.77 103,287 103.32,286.68 103.63,285.72 103.95,284.06 104.27,281.58 104.58,277.91 104.9,268.5 105.22,259.09 105.53,255.42 105.85,252.94 106.17,251.28 106.48,250.32 106.8,250 107.3,250.6 107.7,257.72 108,258.49 108.5,259.65 108.67,259.9 108.85,260.65 109.03,261.95 109.2,263.89 109.38,266.76 109.55,274.12 109.72,281.49 109.9,284.36 110.07,286.3 110.25,287.6 110.42,288.35 110.6,288.6 110.9,288.26 111.2,287.24 111.5,285.49 111.8,282.87 112.1,279 112.4,269.05 112.7,259.1 113,255.23 113.3,252.61 113.6,250.86 113.9,249.84 114.2,249.5 114.7,250.1 115.1,257.4 115.4,258.19 115.9,259.38 116.09,259.63 116.28,260.4 116.48,261.73 116.67,263.71 116.86,266.65 117.05,274.19 117.24,281.72 117.43,284.66 117.62,286.64 117.82,287.97 118.01,288.75 118.2,289 118.48,288.66 118.75,287.61 119.03,285.81 119.3,283.13 119.58,279.15 119.85,268.95 120.12,258.75 120.4,254.77 120.67,252.09 120.95,250.29 121.22,249.24 121.5,248.9 122,249.5 122.4,257.12 122.7,257.94 123.2,259.18 123.42,259.45 123.65,260.3 123.88,261.75 124.1,263.91 124.33,267.11 124.55,275.34 124.78,283.56 125,286.77 125.23,288.93 125.45,290.38 125.68,291.22 125.9,291.5 126.17,291.12 126.43,289.96 126.7,287.96 126.97,284.98 127.23,280.57 127.5,269.25 127.77,257.93 128.03,253.52 128.3,250.54 128.57,248.54 128.83,247.38 129.1,247 129.6,247.6 130,255.6 130.3,256.46 130.8,257.75 131.02,258.06 131.25,258.99 131.47,260.59 131.7,262.97 131.92,266.51 132.15,275.57 132.38,284.64 132.6,288.18 132.82,290.56 133.05,292.16 133.28,293.09 133.5,293.4 133.78,292.99 134.05,291.76 134.32,289.65 134.6,286.49 134.88,281.81 135.15,269.8 135.43,257.79 135.7,253.11 135.98,249.95 136.25,247.84 136.53,246.61 136.8,246.2 137.3,246.8 137.7,254.96 138,255.84 138.5,257.15 138.68,257.44 138.85,258.31 139.03,259.8 139.2,262.03 139.38,265.34 139.55,273.82 139.72,282.31 139.9,285.62 140.07,287.85 140.25,289.34 140.42,290.21 140.6,290.5 140.9,300.5 141.3,300.5 141.6,290.5 141.8,290.11 142,288.91 142.2,286.86 142.4,283.79 142.6,279.25 142.8,267.6 143,255.95 143.2,251.41 143.4,248.34 143.6,246.29 143.8,245.09 144,244.7 144.5,245.3 144.9,253.76 145.2,254.67 145.7,256.02 145.99,256.33 146.28,257.26 146.57,258.85 146.87,261.22 147.16,264.74 147.45,273.76 147.74,282.79 148.03,286.3 148.32,288.68 148.62,290.27 148.91,291.2 149.2,291.5 149.39,291.08 149.58,289.8 149.77,287.59 149.97,284.31 150.16,279.44 150.35,266.95 150.54,254.46 150.73,249.59 150.93,246.31 151.12,244.1 151.31,242.82 151.5,242.4 152,243 152.4,251.92 152.7,252.87 153.2,254.3 153.46,254.61 153.72,255.56 153.97,257.18 154.23,259.6 154.49,263.19 154.75,272.4 155.01,281.61 155.27,285.2 155.53,287.62 155.78,289.24 156.04,290.19 156.3,290.5 156.6,300.5 157,300.5 157.3,290.5 157.45,290.08 157.6,288.79 157.75,286.59 157.9,283.29 158.05,278.42 158.2,265.9 158.35,253.38 158.5,248.51 158.65,245.21 158.8,243.01 158.95,241.72 159.1,241.3 159.6,241.9 160,251.04 160.3,252.01 160.8,253.48 161.09,253.79 161.38,254.76 161.67,256.42 161.97,258.9 162.26,262.57 162.55,271.99 162.84,281.41 163.13,285.08 163.43,287.55 163.72,289.22 164.01,290.18 164.3,290.5 164.6,300.5 165,300.5 165.3,290.5 165.48,290.1 165.65,288.89 165.83,286.81 166,283.7 166.18,279.1 166.35,267.3 166.53,255.5 166.7,250.9 166.88,247.79 167.05,245.71 167.22,244.5 167.4,244.1 167.9,244.7 168.3,252.8 168.6,253.67 169.1,254.97 169.42,255.26 169.75,256.11 170.07,257.57 170.4,259.75 170.72,262.99 171.05,271.29 171.38,279.59 171.7,282.82 172.03,285 172.35,286.47 172.68,287.32 173,287.6 173.18,287.27 173.37,286.28 173.55,284.57 173.73,282.02 173.92,278.24 174.1,268.55 174.28,258.86 174.47,255.08 174.65,252.53 174.83,250.82 175.02,249.83 175.2,249.5 175.7,250.1 176.1,257.12 176.4,257.88 176.9,259.02 177.21,259.27 177.52,260.02 177.82,261.3 178.13,263.21 178.44,266.04 178.75,273.31 179.06,280.58 179.37,283.42 179.67,285.33 179.98,286.61 180.29,287.35 180.6,287.6 180.77,287.26 180.93,286.23 181.1,284.45 181.27,281.8 181.43,277.87 181.6,267.8 181.77,257.73 181.93,253.8 182.1,251.15 182.27,249.37 182.43,248.34 182.6,248 183.1,248.6 183.5,256.4 183.8,257.24 184.3,258.5 184.53,258.81 184.77,259.75 185,261.36 185.23,263.77 185.47,267.34 185.7,276.5 185.93,285.66 186.17,289.23 186.4,291.64 186.63,293.25 186.87,294.19 187.1,294.5 187.38,294.16 187.67,293.12 187.95,291.34 188.23,288.69 188.52,284.75 188.8,274.65 189.08,264.55 189.37,260.61 189.65,257.96 189.93,256.18 190.22,255.14 190.5,254.8 191,255.4 191.4,260.3 191.7,260.85 192.2,261.68 192.5,261.85 192.8,262.39 193.1,263.32 193.4,264.7 193.7,266.74 194,271.99 194.3,277.23 194.6,279.28 194.9,280.66 195.2,281.58 195.5,282.12 195.8,282.3 195.93,282.03 196.05,281.21 196.18,279.81 196.3,277.72 196.43,274.61 196.55,266.65 196.68,258.69 196.8,255.58 196.93,253.49 197.05,252.09 197.18,251.27 197.3,251 197.8,251.6 198.2,258.8 198.5,259.58 199,260.75 199.18,261.01 199.35,261.78 199.53,263.12 199.7,265.11 199.88,268.06 200.05,275.62 200.22,283.19 200.4,286.14 200.57,288.13 200.75,289.47 200.92,290.24 201.1,290.5 201.4,300.5 201.8,300.5 202.1,290.5 202.34,290.16 202.58,289.13 202.82,287.36 203.07,284.72 203.31,280.8 203.55,270.75 203.79,260.7 204.03,256.78 204.28,254.14 204.52,252.37 204.76,251.34 205,251 205.5,251.6 205.9,257.56 206.2,258.22 206.7,259.2 206.9,259.41 207.1,260.05 207.3,261.16 207.5,262.8 207.7,265.24 207.9,271.5 208.1,277.76 208.3,280.2 208.5,281.84 208.7,282.95 208.9,283.59 209.1,283.8 209.34,283.53 209.58,282.71 209.82,281.3 210.07,279.2 210.31,276.09 210.55,268.1 210.79,260.11 211.03,257 211.28,254.9 211.52,253.49 211.76,252.67 212,252.4 212.5,253 212.9,258.96 213.2,259.62 213.7,260.6 213.92,260.81 214.13,261.45 214.35,262.56 214.57,264.2 214.78,266.64 215,272.9 215.22,279.16 215.43,281.6 215.65,283.24 215.87,284.35 216.08,284.99 216.3,285.2 216.54,284.89 216.78,283.96 217.03,282.36 217.27,279.97 217.51,276.43 217.75,267.35 217.99,258.27 218.23,254.73 218.47,252.34 218.72,250.74 218.96,249.81 219.2,249.5 219.7,250.1 220.1,257.6 220.4,258.41 220.9,259.62 221.12,259.89 221.33,260.7 221.55,262.08 221.77,264.15 221.98,267.21 222.2,275.06 222.42,282.92 222.63,285.98 222.85,288.04 223.07,289.43 223.28,290.23 223.5,290.5 223.8,300.5 224.2,300.5 224.5,290.5 224.69,290.14 224.88,289.03 225.07,287.13 225.27,284.31 225.46,280.11 225.65,269.35 225.84,258.59 226.03,254.39 226.23,251.57 226.42,249.67 226.61,248.56 226.8,248.2 227.3,248.8 227.7,256.28 228,257.09 228.5,258.3 228.76,258.56 229.02,259.35 229.28,260.71 229.53,262.74 229.79,265.74 230.05,273.45 230.31,281.16 230.57,284.16 230.82,286.19 231.08,287.55 231.34,288.34 231.6,288.6 231.84,288.26 232.08,287.21 232.32,285.41 232.57,282.73 232.81,278.75 233.05,268.55 233.29,258.35 233.53,254.37 233.78,251.69 234.02,249.89 234.26,248.84 234.5,248.5 235,249.1 235.4,256.52 235.7,257.32 236.2,258.52 236.45,258.78 236.7,259.57 236.95,260.92 237.2,262.93 237.45,265.91 237.7,273.56 237.95,281.21 238.2,284.2 238.45,286.21 238.7,287.56 238.95,288.34 239.2,288.6 239.39,288.25 239.58,287.18 239.77,285.34 239.97,282.6 240.16,278.53 240.35,268.1 240.54,257.67 240.73,253.6 240.93,250.86 241.12,249.02 241.31,247.95 241.5,247.6 242,248.2 242.4,256.08 242.7,256.93 243.2,258.2 243.51,258.53 243.82,259.52 244.12,261.22 244.43,263.76 244.74,267.53 245.05,277.2 245.36,286.87 245.67,290.64 245.97,293.18 246.28,294.88 246.59,295.87 246.9,296.2 247.09,295.76 247.28,294.41 247.47,292.1 247.67,288.66 247.86,283.55 248.05,270.45 248.24,257.35 248.43,252.24 248.62,248.8 248.82,246.49 249.01,245.14 249.2,244.7 249.7,245.3 250.1,253.76 250.4,254.67 250.9,256.02 251.18,256.32 251.47,257.22 251.75,258.77 252.03,261.07 252.32,264.49 252.6,273.26 252.88,282.03 253.17,285.45 253.45,287.76 253.73,289.3 254.02,290.2 254.3,290.5 254.6,300.5 255,300.5 255.3,290.5 255.45,290.16 255.6,289.14 255.75,287.39 255.9,284.77 256.05,280.9 256.2,270.95 256.35,261 256.5,257.13 256.65,254.51 256.8,252.76 256.95,251.74 257.1,251.4 257.6,252 258,259.12 258.3,259.89 258.8,261.05 259.09,261.34 259.38,262.21 259.68,263.72 259.97,265.96 260.26,269.29 260.55,277.82 260.84,286.36 261.13,289.69 261.43,291.93 261.72,293.44 262.01,294.31 262.3,294.6 262.55,294.21 262.8,293.04 263.05,291.01 263.3,288 263.55,283.52 263.8,272.05 264.05,260.58 264.3,256.1 264.55,253.09 264.8,251.06 265.05,249.89 265.3,249.5 265.8,250.1 266.2,256.4 266.5,257.09 267,258.12 268,264.12 269.1,281 270.5,283.7 271.5,284.2" fill="none" stroke="#1a1a1a" stroke-width="1.05" stroke-linejoin="round" clip-path="url(#cE)"/>
<text x="48.3" y="244.7" font-size="9.2" font-family="Liberation Serif">ω / ω<tspan font-size="6.5" dy="1.8">l</tspan><tspan dy="-1.8">=0.92</tspan></text>
<text transform="translate(14.7,271.8) rotate(-90)" font-size="13" font-family="Liberation Serif"><tspan x="0">P</tspan><tspan x="9.0" font-size="15" dy="-0.6">/</tspan><tspan x="14.4" dy="0.6">ρg</tspan><tspan x="28.4">h</tspan></text>
<line x1="306.85" y1="219.9" x2="541.5" y2="219.9" stroke="#000" stroke-width="1.35"/>
<line x1="540.9" y1="219.9" x2="540.9" y2="299.7" stroke="#000" stroke-width="1.35"/>
<line x1="307.45" y1="219.9" x2="307.45" y2="299.1" stroke="#000" stroke-width="1.35"/>
<line x1="307.45" y1="299.1" x2="540.9" y2="299.1" stroke="#000" stroke-width="1.35"/>
<line x1="330.79" y1="219.9" x2="330.79" y2="221.6" stroke="#000" stroke-width="1.15"/>
<line x1="354.14" y1="219.9" x2="354.14" y2="223.3" stroke="#000" stroke-width="1.15"/>
<line x1="377.49" y1="219.9" x2="377.49" y2="221.6" stroke="#000" stroke-width="1.15"/>
<line x1="400.83" y1="219.9" x2="400.83" y2="223.3" stroke="#000" stroke-width="1.15"/>
<line x1="424.17" y1="219.9" x2="424.17" y2="221.6" stroke="#000" stroke-width="1.15"/>
<line x1="447.52" y1="219.9" x2="447.52" y2="223.3" stroke="#000" stroke-width="1.15"/>
<line x1="470.87" y1="219.9" x2="470.87" y2="221.6" stroke="#000" stroke-width="1.15"/>
<line x1="494.21" y1="219.9" x2="494.21" y2="223.3" stroke="#000" stroke-width="1.15"/>
<line x1="517.55" y1="219.9" x2="517.55" y2="221.6" stroke="#000" stroke-width="1.15"/>
<line x1="540.9" y1="227.82" x2="539.2" y2="227.82" stroke="#000" stroke-width="1.15"/>
<line x1="540.9" y1="235.74" x2="537.5" y2="235.74" stroke="#000" stroke-width="1.15"/>
<line x1="540.9" y1="243.66" x2="539.2" y2="243.66" stroke="#000" stroke-width="1.15"/>
<line x1="540.9" y1="251.58" x2="537.5" y2="251.58" stroke="#000" stroke-width="1.15"/>
<line x1="540.9" y1="259.5" x2="539.2" y2="259.5" stroke="#000" stroke-width="1.15"/>
<line x1="540.9" y1="267.42" x2="537.5" y2="267.42" stroke="#000" stroke-width="1.15"/>
<line x1="540.9" y1="275.34" x2="539.2" y2="275.34" stroke="#000" stroke-width="1.15"/>
<line x1="540.9" y1="283.26" x2="537.5" y2="283.26" stroke="#000" stroke-width="1.15"/>
<line x1="540.9" y1="291.18" x2="539.2" y2="291.18" stroke="#000" stroke-width="1.15"/>
<line x1="303.95" y1="299.2" x2="307.45" y2="299.2" stroke="#000" stroke-width="1.2"/>
<line x1="303.95" y1="281.3" x2="307.45" y2="281.3" stroke="#000" stroke-width="1.2"/>
<line x1="303.95" y1="263.4" x2="307.45" y2="263.4" stroke="#000" stroke-width="1.2"/>
<line x1="303.95" y1="245.5" x2="307.45" y2="245.5" stroke="#000" stroke-width="1.2"/>
<line x1="303.95" y1="227.6" x2="307.45" y2="227.6" stroke="#000" stroke-width="1.2"/>
<line x1="305.75" y1="290.25" x2="307.45" y2="290.25" stroke="#000" stroke-width="1.2"/>
<line x1="305.75" y1="272.35" x2="307.45" y2="272.35" stroke="#000" stroke-width="1.2"/>
<line x1="305.75" y1="254.45" x2="307.45" y2="254.45" stroke="#000" stroke-width="1.2"/>
<line x1="305.75" y1="236.55" x2="307.45" y2="236.55" stroke="#000" stroke-width="1.2"/>
<line x1="307.4" y1="299.1" x2="307.4" y2="302.7" stroke="#000" stroke-width="1.2"/>
<line x1="345.55" y1="299.1" x2="345.55" y2="302.7" stroke="#000" stroke-width="1.2"/>
<line x1="383.7" y1="299.1" x2="383.7" y2="302.7" stroke="#000" stroke-width="1.2"/>
<line x1="421.85" y1="299.1" x2="421.85" y2="302.7" stroke="#000" stroke-width="1.2"/>
<line x1="460" y1="299.1" x2="460" y2="302.7" stroke="#000" stroke-width="1.2"/>
<line x1="498.15" y1="299.1" x2="498.15" y2="302.7" stroke="#000" stroke-width="1.2"/>
<line x1="536.3" y1="299.1" x2="536.3" y2="302.7" stroke="#000" stroke-width="1.2"/>
<line x1="326.47" y1="299.1" x2="326.47" y2="300.8" stroke="#000" stroke-width="1.2"/>
<line x1="364.62" y1="299.1" x2="364.62" y2="300.8" stroke="#000" stroke-width="1.2"/>
<line x1="402.77" y1="299.1" x2="402.77" y2="300.8" stroke="#000" stroke-width="1.2"/>
<line x1="440.92" y1="299.1" x2="440.92" y2="300.8" stroke="#000" stroke-width="1.2"/>
<line x1="479.07" y1="299.1" x2="479.07" y2="300.8" stroke="#000" stroke-width="1.2"/>
<line x1="517.22" y1="299.1" x2="517.22" y2="300.8" stroke="#000" stroke-width="1.2"/>
<text x="302.6" y="302.6" font-size="10.5" text-anchor="end" font-family="Liberation Serif" >−0. 10</text>
<text x="302.6" y="284.7" font-size="10.5" text-anchor="end" font-family="Liberation Serif" >−0. 05</text>
<text x="302.6" y="266.8" font-size="10.5" text-anchor="end" font-family="Liberation Serif" >0. 00</text>
<text x="302.6" y="248.9" font-size="10.5" text-anchor="end" font-family="Liberation Serif" >0. 05</text>
<text x="302.6" y="231" font-size="10.5" text-anchor="end" font-family="Liberation Serif" >0. 10</text>
<text x="307.4" y="312.7" font-size="10.5" text-anchor="middle" font-family="Liberation Serif" >0</text>
<text x="345.55" y="312.7" font-size="10.5" text-anchor="middle" font-family="Liberation Serif" >5</text>
<text x="383.7" y="312.7" font-size="10.5" text-anchor="middle" font-family="Liberation Serif" >10</text>
<text x="421.85" y="312.7" font-size="10.5" text-anchor="middle" font-family="Liberation Serif" >15</text>
<text x="460" y="312.7" font-size="10.5" text-anchor="middle" font-family="Liberation Serif" >20</text>
<text x="498.15" y="312.7" font-size="10.5" text-anchor="middle" font-family="Liberation Serif" >25</text>
<text x="536.3" y="312.7" font-size="10.5" text-anchor="middle" font-family="Liberation Serif" >30</text>
<text x="426.47" y="321.3" font-size="10.6" text-anchor="middle" font-family="Liberation Serif" >t (s)</text>
<polyline points="307.3,262.99 307.55,262.95 307.8,262.92 308.05,262.91 308.3,262.94 308.55,263 308.8,263.25 309.05,263.53 309.3,263.69 309.55,263.82 309.8,263.94 310.05,264.04 310.3,264.12 310.55,264.18 310.8,264.2 311.05,264.2 311.3,264.15 311.55,264.06 311.8,263.9 312.05,263.64 312.3,262.87 312.55,262.43 312.8,262.14 313.05,261.91 313.3,261.74 313.55,261.63 313.8,261.55 314.05,261.52 314.3,261.54 314.55,261.6 314.8,261.72 315.05,261.89 315.3,262.14 315.55,262.53 315.8,263.53 316.05,263.95 316.3,264.23 316.55,264.44 316.8,264.6 317.05,264.7 317.3,264.75 317.55,264.76 317.8,264.71 318.05,264.6 318.3,264.44 318.55,264.21 318.8,263.88 319.05,263.35 319.3,262.23 319.55,261.79 319.8,261.48 320.05,261.25 320.3,261.07 320.55,260.96 320.8,260.9 321.05,260.89 321.3,260.92 321.55,261.02 321.8,261.2 322.05,261.46 322.3,261.85 322.55,262.66 322.8,263.8 323.05,264.26 323.3,264.61 323.55,264.87 323.8,265.06 324.05,265.19 324.3,265.25 324.55,265.23 324.8,265.14 325.05,264.97 325.3,264.71 325.55,264.34 325.8,263.78 326.05,262.22 326.3,261.37 326.55,260.84 326.8,260.44 327.05,260.13 327.3,259.9 327.55,259.76 327.8,259.7 328.05,259.73 328.3,259.86 328.55,260.09 328.8,260.43 329.05,260.9 329.3,261.62 329.55,263.5 329.8,264.3 330.05,264.84 330.3,265.24 330.55,265.53 330.8,265.72 331.05,265.82 331.3,265.83 331.55,265.74 331.8,265.56 332.05,265.26 332.3,264.85 332.55,264.26 332.8,263.33 333.05,261.28 333.3,260.49 333.55,259.93 333.8,259.51 334.05,259.21 334.3,259.01 334.55,258.91 334.8,258.91 335.05,259.01 335.3,259.21 335.55,259.54 335.8,260.01 336.05,260.69 336.3,261.99 336.55,264.02 336.8,264.81 337.05,265.39 337.3,265.82 337.55,266.14 337.8,266.33 338.05,266.42 338.3,266.38 338.55,266.23 338.8,265.94 339.05,265.52 339.3,264.91 339.55,264.03 339.8,261.61 340.05,260.22 340.3,259.39 340.55,258.78 340.8,258.32 341.05,258 341.3,257.82 341.55,257.78 341.8,257.87 342.05,258.09 342.3,258.45 342.55,258.97 342.8,259.7 343.05,260.77 343.3,263.57 343.55,264.8 343.8,265.6 344.05,266.2 344.3,266.63 344.55,266.92 344.8,267.07 345.05,267.09 345.3,266.96 345.55,266.7 345.8,266.28 346.05,265.69 346.3,264.87 346.55,263.58 346.8,260.65 347.05,259.53 347.3,258.75 347.55,258.17 347.8,257.76 348.05,257.5 348.3,257.38 348.55,257.4 348.8,257.55 349.05,257.86 349.3,258.34 349.55,259.01 349.8,259.96 350.05,261.66 350.3,264.51 350.55,265.6 350.8,266.38 351.05,266.96 351.3,267.37 351.55,267.63 351.8,267.74 352.05,267.69 352.3,267.48 352.55,267.11 352.8,266.56 353.05,265.78 353.3,264.67 353.55,261.63 353.8,259.78 354.05,258.72 354.3,257.95 354.55,257.38 354.8,256.98 355.05,256.75 355.3,256.67 355.55,256.77 355.8,257.03 356.05,257.47 356.3,258.12 356.55,259.02 356.8,260.36 357.05,263.93 357.3,265.54 357.55,266.6 357.8,267.38 358.05,267.96 358.3,268.35 358.55,268.56 358.8,268.6 359.05,268.46 359.3,268.13 359.55,267.6 359.8,266.85 360.05,265.8 360.3,264.15 360.55,260.3 360.8,258.79 361.05,257.74 361.3,256.96 361.55,256.4 361.8,256.03 362.05,255.85 362.3,255.86 362.55,256.06 362.8,256.46 363.05,257.08 363.3,257.95 363.55,259.19 363.8,261.35 364.05,265.25 364.3,266.72 364.55,267.77 364.8,268.56 365.05,269.12 365.3,269.48 365.55,269.63 365.8,269.58 366.05,269.31 366.3,268.83 366.55,268.1 366.8,267.07 367.05,265.61 367.3,261.67 367.55,259.06 367.8,257.62 368.05,256.56 368.3,255.78 368.55,255.24 368.8,254.91 369.05,254.81 369.3,254.93 369.55,255.28 369.8,255.86 370.05,256.72 370.3,257.92 370.55,259.67 370.8,264.4 371.05,266.62 371.3,268.05 371.55,269.1 371.8,269.88 372.05,270.4 372.3,270.69 372.55,270.75 372.8,270.56 373.05,270.13 373.3,269.44 373.55,268.45 373.8,267.07 374.05,264.93 374.3,259.8 374.55,257.75 374.8,256.35 375.05,255.31 375.3,254.55 375.55,254.06 375.8,253.82 376.05,253.83 376.3,254.09 376.55,254.62 376.8,255.43 377.05,256.58 377.3,258.19 377.55,260.91 377.8,266.11 378.05,268.06 378.3,269.44 378.55,270.47 378.8,271.21 379.05,271.67 379.3,271.87 379.55,271.79 379.8,271.45 380.05,270.82 380.3,269.88 380.55,268.57 380.8,266.7 381.05,261.86 381.3,258.26 381.55,256.38 381.8,255.02 382.05,254.02 382.3,253.31 382.55,252.9 382.8,252.77 383.05,252.92 383.3,253.36 383.55,254.1 383.8,255.19 384.05,256.69 384.3,258.89 384.55,264.84 384.8,267.73 385.05,269.55 385.3,270.89 385.55,271.88 385.8,272.54 386.05,272.91 386.3,272.98 386.55,272.75 386.8,272.21 387.05,271.35 387.3,270.11 387.55,268.39 387.8,265.78 388.05,259.34 388.3,256.73 388.55,254.96 388.8,253.65 389.05,252.71 389.3,252.1 389.55,251.8 389.8,251.81 390.05,252.14 390.3,252.8 390.55,253.81 390.8,255.21 391.05,257.18 391.3,260.42 391.55,266.89 391.8,269.31 392.05,271.02 392.3,272.28 392.55,273.18 392.8,273.74 393.05,273.97 393.3,273.88 393.55,273.46 393.8,272.7 394.05,271.56 394.3,269.98 394.55,267.76 394.8,262.68 395.05,257.58 395.3,255.31 395.55,253.66 395.8,252.45 396.05,251.61 396.3,251.12 396.55,250.96 396.8,251.14 397.05,251.67 397.3,252.55 397.55,253.84 397.8,255.61 398.05,258.17 398.3,265.13 398.55,268.65 398.8,270.82 399.05,272.41 399.3,273.57 399.55,274.35 399.8,274.78 400.05,274.87 400.3,274.6 400.55,273.97 400.8,272.96 401.05,271.52 401.3,269.54 401.55,266.55 401.8,259.07 402.05,255.97 402.3,253.9 402.55,252.37 402.8,251.27 403.05,250.56 403.3,250.2 403.55,250.21 403.8,250.58 404.05,251.33 404.3,252.48 404.55,254.09 404.8,256.32 405.05,259.94 405.3,267.49 405.55,270.33 405.8,272.32 406.05,273.79 406.3,274.83 406.55,275.49 406.8,275.77 407.05,275.67 407.3,275.2 407.55,274.33 407.8,273.04 408.05,271.25 408.3,268.73 408.55,263.78 408.8,257.06 409.05,254.4 409.3,252.5 409.55,251.1 409.8,250.12 410.05,249.55 410.3,249.35 410.55,249.53 410.8,250.12 411.05,251.11 411.3,252.56 411.55,254.57 411.8,257.45 412.05,265.32 412.3,269.51 412.55,272.04 412.8,273.89 413.05,275.24 413.3,276.16 413.55,276.67 413.8,276.79 414.05,276.5 414.3,275.79 414.55,274.65 414.8,273.02 415.05,270.77 415.3,267.41 415.55,258.8 415.8,255.15 416.05,252.73 416.3,250.95 416.55,249.66 416.8,248.81 417.05,248.38 417.3,248.37 417.55,248.78 417.8,249.62 418.05,250.92 418.3,252.76 418.55,255.3 418.8,259.35 419.05,268.16 419.3,271.5 419.55,273.83 419.8,275.55 420.05,276.78 420.3,277.55 420.55,277.9 420.8,277.81 421.05,277.28 421.3,276.3 421.55,274.83 421.8,272.78 422.05,269.91 422.3,264.57 422.55,256.4 422.8,253.27 423.05,251.04 423.3,249.39 423.55,248.24 423.8,247.55 424.05,247.3 424.3,247.51 424.55,248.17 424.8,249.31 425.05,250.97 425.3,253.26 425.55,256.54 425.8,265.47 426.05,270.51 426.3,273.47 426.55,275.62 426.8,277.2 427.05,278.28 427.3,278.88 427.55,279.02 427.8,278.7 428.05,277.91 428.3,276.61 428.55,274.75 428.8,272.19 429.05,268.4 429.3,258.53 429.55,254.23 429.8,251.42 430.05,249.35 430.3,247.85 430.55,246.86 430.8,246.36 431.05,246.33 431.3,246.78 431.55,247.73 431.8,249.21 432.05,251.28 432.3,254.16 432.55,258.67 432.8,268.82 433.05,272.72 433.3,275.41 433.55,277.4 433.8,278.82 434.05,279.72 434.3,280.13 434.55,280.04 434.8,279.45 435.05,278.35 435.3,276.69 435.55,274.38 435.8,271.15 436.05,265.39 436.3,255.77 436.55,252.15 436.8,249.58 437.05,247.68 437.3,246.36 437.55,245.57 437.8,245.29 438.05,245.52 438.3,246.26 438.55,247.54 438.8,249.4 439.05,251.98 439.3,255.63 439.55,265.47 439.8,271.42 440.05,274.79 440.3,277.24 440.55,279.03 440.8,280.25 441.05,280.93 441.3,281.1 441.55,280.74 441.8,279.85 442.05,278.41 442.3,276.34 442.55,273.5 442.8,269.34 443.05,258.37 443.3,253.44 443.55,250.27 443.8,247.94 444.05,246.26 444.3,245.14 444.55,244.57 444.8,244.53 445.05,245.03 445.3,246.07 445.55,247.69 445.8,249.97 446.05,253.12 446.3,257.99 446.55,269.27 446.8,273.65 447.05,276.66 447.3,278.86 447.55,280.44 447.8,281.44 448.05,281.89 448.3,281.8 448.55,281.17 448.8,279.96 449.05,278.15 449.3,275.64 449.55,272.14 449.8,266.1 450.05,255.3 450.3,251.29 450.55,248.44 450.8,246.35 451.05,244.89 451.3,244 451.55,243.67 451.8,243.89 452.05,244.68 452.3,246.06 452.55,248.07 452.8,250.84 453.05,254.76 453.3,265.16 453.55,272.01 453.8,275.74 454.05,278.45 454.3,280.42 454.55,281.77 454.8,282.54 455.05,282.74 455.3,282.37 455.55,281.42 455.8,279.87 456.05,277.65 456.3,274.59 456.55,270.14 456.8,258.27 457.05,252.75 457.3,249.25 457.55,246.69 457.8,244.83 458.05,243.6 458.3,242.96 458.55,242.9 458.8,243.42 459.05,244.53 459.3,246.27 459.55,248.73 459.8,252.1 460.05,257.26 460.3,269.55 460.55,274.41 460.8,277.71 461.05,280.13 461.3,281.86 461.55,282.97 461.8,283.48 462.05,283.4 462.3,282.73 462.55,281.44 462.8,279.5 463.05,276.81 463.3,273.07 463.55,266.79 463.8,254.89 464.05,250.47 464.3,247.36 464.55,245.08 464.8,243.47 465.05,242.49 465.3,242.12 465.55,242.34 465.8,243.18 466.05,244.64 466.3,246.78 466.55,249.74 466.8,253.91 467.05,264.59 467.3,272.52 467.55,276.6 467.8,279.54 468.05,281.7 468.3,283.17 468.55,284.02 468.8,284.25 469.05,283.88 469.3,282.88 469.55,281.23 469.8,278.86 470.05,275.61 470.3,270.92 470.55,258.28 470.8,252.17 471.05,248.36 471.3,245.57 471.55,243.56 471.8,242.21 472.05,241.5 472.3,241.41 472.55,241.95 472.8,243.12 473.05,244.96 473.3,247.56 473.55,251.14 473.8,256.55 474.05,269.75 474.3,275.07 474.55,278.65 474.8,281.28 475.05,283.16 475.3,284.37 475.55,284.94 475.8,284.88 476.05,284.19 476.3,282.83 476.55,280.78 476.8,277.93 477.05,273.98 477.3,267.49 477.55,254.55 477.8,249.74 478.05,246.36 478.3,243.89 478.55,242.14 478.8,241.07 479.05,240.64 479.3,240.86 479.55,241.73 479.8,243.27 480.05,245.53 480.3,248.66 480.55,253.05 480.8,263 481.05,272.97 481.3,277.41 481.55,280.59 481.8,282.92 482.05,284.53 482.3,285.46 482.55,285.73 482.8,285.35 483.05,284.31 483.3,282.58 483.55,280.08 483.8,276.65 484.05,271.71 484.3,258.36 484.55,251.62 484.8,247.49 485.05,244.48 485.3,242.3 485.55,240.83 485.8,240.05 486.05,239.93 486.3,240.47 486.55,241.7 486.8,243.64 487.05,246.38 487.3,250.15 487.55,255.8 487.8,269.9 488.05,275.72 488.3,279.59 488.55,282.43 488.8,284.47 489.05,285.79 489.3,286.42 489.55,286.38 489.8,285.66 490.05,284.25 490.3,282.09 490.55,279.08 490.8,274.92 491.05,268.21 491.3,254.24 491.55,249.01 491.8,245.37 492.05,242.69 492.3,240.8 492.55,239.62 492.8,239.15 493.05,239.35 493.3,240.25 493.55,241.86 493.8,244.25 494.05,247.55 494.3,252.16 494.55,261.18 494.8,273.41 495.05,278.21 495.3,281.65 495.55,284.17 495.8,285.91 496.05,286.93 496.3,287.25 496.55,286.87 496.8,285.79 497.05,283.97 497.3,281.34 497.55,277.72 497.8,272.56 498.05,258.52 498.3,251.08 498.55,246.61 498.8,243.36 499.05,241 499.3,239.42 499.55,238.55 499.8,238.4 500.05,238.95 500.3,240.23 500.55,242.27 500.8,245.15 501.05,249.12 501.3,255.01 501.55,270.01 501.8,276.35 502.05,280.53 502.3,283.59 502.55,285.79 502.8,287.23 503.05,287.93 503.3,287.91 503.55,287.18 503.8,285.7 504.05,283.43 504.3,280.27 504.55,275.9 504.8,268.97 505.05,253.97 505.3,248.3 505.55,244.37 505.8,241.48 506.05,239.44 506.3,238.17 506.55,237.63 506.8,237.82 507.05,238.75 507.3,240.43 507.55,242.94 507.8,246.4 508.05,251.24 508.3,260.17 508.55,273.81 508.8,279 509.05,282.7 509.3,285.41 509.55,287.29 509.8,288.41 510.05,288.77 510.3,288.4 510.55,287.28 510.8,285.37 511.05,282.61 511.3,278.82 511.55,273.42 511.8,258.79 512.05,250.56 512.3,245.75 512.55,242.26 512.8,239.72 513.05,238.01 513.3,237.07 513.55,236.89 513.8,237.46 514.05,238.79 514.3,240.93 514.55,243.96 514.8,248.11 515.05,254.22 515.3,270.04 515.55,276.9 515.8,281.37 516.05,284.64 516.3,286.99 516.55,288.52 516.8,289.28 517.05,289.29 517.3,288.53 517.55,286.99 517.8,284.63 518.05,281.33 518.3,276.79 518.55,269.7 518.8,253.81 519.05,247.74 519.3,243.57 519.55,240.51 519.8,238.34 520.05,236.98 520.3,236.4 520.55,236.58 520.8,237.53 521.05,239.28 521.3,241.87 521.55,245.46 521.8,250.45 522.05,259.3 522.3,274.03 522.55,279.54 522.8,283.44 523.05,286.3 523.3,288.29 523.55,289.47 523.8,289.87 524.05,289.5 524.3,288.35 524.55,286.39 524.8,283.55 525.05,279.65 525.3,274.12 525.55,259.27 525.8,250.32 526.05,245.25 526.3,241.59 526.55,238.93 526.8,237.12 527.05,236.12 527.3,235.9 527.55,236.46 527.8,237.81 528.05,240 528.3,243.1 528.55,247.35 528.8,253.56 529.05,269.89 529.3,277.2 529.55,281.9 529.8,285.33 530.05,287.8 530.3,289.43 530.55,290.25 530.8,290.28 531.05,289.53 531.3,287.97 531.55,285.55 531.8,282.17 532.05,277.53 532.3,270.36 532.55,253.8 532.8,247.38 533.05,243 533.3,239.79 533.55,237.5 533.8,236.06 534.05,235.43 534.3,235.59 534.55,236.54 534.8,238.32 535.05,240.97 535.3,244.65 535.55,249.75 535.8,258.51 536.05,274.15 536.3,279.95" fill="none" stroke="#111" stroke-width="1.45" stroke-linejoin="round" />
<text x="320.4" y="244.7" font-size="9.6" font-family="Liberation Serif">ω</text>
<text x="328.1" y="244.7" font-size="8.6" font-family="Liberation Serif">/</text>
<text x="332.2" y="244.7" font-size="9.6" font-family="Liberation Serif">ω</text>
<text x="339.6" y="246.5" font-size="6.6" font-family="Liberation Serif">l</text>
<text x="341.5" y="244.7" font-size="9.4" font-family="Liberation Serif">=</text>
<text x="347.3" y="244.7" font-size="9.4" font-family="Liberation Serif">1</text>
<line x1="40.85" y1="325.6" x2="275.2" y2="325.6" stroke="#000" stroke-width="1.35"/>
<line x1="274.6" y1="325.6" x2="274.6" y2="405.3" stroke="#000" stroke-width="1.35"/>
<line x1="41.45" y1="325.6" x2="41.45" y2="404.7" stroke="#9a9a9a" stroke-width="1.0"/>
<line x1="41.45" y1="404.7" x2="274.6" y2="404.7" stroke="#9a9a9a" stroke-width="1.2"/>
<line x1="64.77" y1="325.6" x2="64.77" y2="327.3" stroke="#000" stroke-width="1.15"/>
<line x1="88.08" y1="325.6" x2="88.08" y2="329" stroke="#000" stroke-width="1.15"/>
<line x1="111.4" y1="325.6" x2="111.4" y2="327.3" stroke="#000" stroke-width="1.15"/>
<line x1="134.71" y1="325.6" x2="134.71" y2="329" stroke="#000" stroke-width="1.15"/>
<line x1="158.03" y1="325.6" x2="158.03" y2="327.3" stroke="#000" stroke-width="1.15"/>
<line x1="181.34" y1="325.6" x2="181.34" y2="329" stroke="#000" stroke-width="1.15"/>
<line x1="204.66" y1="325.6" x2="204.66" y2="327.3" stroke="#000" stroke-width="1.15"/>
<line x1="227.97" y1="325.6" x2="227.97" y2="329" stroke="#000" stroke-width="1.15"/>
<line x1="251.29" y1="325.6" x2="251.29" y2="327.3" stroke="#000" stroke-width="1.15"/>
<line x1="274.6" y1="335.49" x2="272.9" y2="335.49" stroke="#000" stroke-width="1.15"/>
<line x1="274.6" y1="345.38" x2="271.2" y2="345.38" stroke="#000" stroke-width="1.15"/>
<line x1="274.6" y1="355.26" x2="272.9" y2="355.26" stroke="#000" stroke-width="1.15"/>
<line x1="274.6" y1="365.15" x2="271.2" y2="365.15" stroke="#000" stroke-width="1.15"/>
<line x1="274.6" y1="375.04" x2="272.9" y2="375.04" stroke="#000" stroke-width="1.15"/>
<line x1="274.6" y1="384.93" x2="271.2" y2="384.93" stroke="#000" stroke-width="1.15"/>
<line x1="274.6" y1="394.81" x2="272.9" y2="394.81" stroke="#000" stroke-width="1.15"/>
<line x1="37.95" y1="404.7" x2="41.45" y2="404.7" stroke="#9a9a9a" stroke-width="1.0"/>
<line x1="37.95" y1="384.93" x2="41.45" y2="384.93" stroke="#9a9a9a" stroke-width="1.0"/>
<line x1="37.95" y1="365.15" x2="41.45" y2="365.15" stroke="#9a9a9a" stroke-width="1.0"/>
<line x1="37.95" y1="345.38" x2="41.45" y2="345.38" stroke="#9a9a9a" stroke-width="1.0"/>
<line x1="37.95" y1="325.6" x2="41.45" y2="325.6" stroke="#9a9a9a" stroke-width="1.0"/>
<line x1="39.75" y1="394.81" x2="41.45" y2="394.81" stroke="#9a9a9a" stroke-width="1.0"/>
<line x1="39.75" y1="375.04" x2="41.45" y2="375.04" stroke="#9a9a9a" stroke-width="1.0"/>
<line x1="39.75" y1="355.26" x2="41.45" y2="355.26" stroke="#9a9a9a" stroke-width="1.0"/>
<line x1="39.75" y1="335.49" x2="41.45" y2="335.49" stroke="#9a9a9a" stroke-width="1.0"/>
<line x1="41.45" y1="404.7" x2="41.45" y2="408.3" stroke="#9a9a9a" stroke-width="1.0"/>
<line x1="88.08" y1="404.7" x2="88.08" y2="408.3" stroke="#9a9a9a" stroke-width="1.0"/>
<line x1="134.71" y1="404.7" x2="134.71" y2="408.3" stroke="#9a9a9a" stroke-width="1.0"/>
<line x1="181.34" y1="404.7" x2="181.34" y2="408.3" stroke="#9a9a9a" stroke-width="1.0"/>
<line x1="227.97" y1="404.7" x2="227.97" y2="408.3" stroke="#9a9a9a" stroke-width="1.0"/>
<line x1="274.6" y1="404.7" x2="274.6" y2="408.3" stroke="#9a9a9a" stroke-width="1.0"/>
<line x1="64.77" y1="404.7" x2="64.77" y2="406.4" stroke="#9a9a9a" stroke-width="1.0"/>
<line x1="111.4" y1="404.7" x2="111.4" y2="406.4" stroke="#9a9a9a" stroke-width="1.0"/>
<line x1="158.03" y1="404.7" x2="158.03" y2="406.4" stroke="#9a9a9a" stroke-width="1.0"/>
<line x1="204.66" y1="404.7" x2="204.66" y2="406.4" stroke="#9a9a9a" stroke-width="1.0"/>
<line x1="251.29" y1="404.7" x2="251.29" y2="406.4" stroke="#9a9a9a" stroke-width="1.0"/>
<text x="36.4" y="408.1" font-size="10.5" text-anchor="end" font-family="Liberation Serif" >0. 0</text>
<text x="36.4" y="388.32" font-size="10.5" text-anchor="end" font-family="Liberation Serif" >0. 1</text>
<text x="36.4" y="368.55" font-size="10.5" text-anchor="end" font-family="Liberation Serif" >0. 2</text>
<text x="36.4" y="348.77" font-size="10.5" text-anchor="end" font-family="Liberation Serif" >0. 3</text>
<text x="36.4" y="329" font-size="10.5" text-anchor="end" font-family="Liberation Serif" >0. 4</text>
<text x="41.45" y="418.9" font-size="10.5" text-anchor="middle" font-family="Liberation Serif" >0. 0</text>
<text x="88.08" y="418.9" font-size="10.5" text-anchor="middle" font-family="Liberation Serif" >1. 2</text>
<text x="134.71" y="418.9" font-size="10.5" text-anchor="middle" font-family="Liberation Serif" >2. 4</text>
<text x="181.34" y="418.9" font-size="10.5" text-anchor="middle" font-family="Liberation Serif" >3. 6</text>
<text x="227.97" y="418.9" font-size="10.5" text-anchor="middle" font-family="Liberation Serif" >4. 8</text>
<text x="274.6" y="418.9" font-size="10.5" text-anchor="middle" font-family="Liberation Serif" >6. 0</text>
<text x="158.03" y="434.1" font-size="12" text-anchor="middle" font-family="Liberation Serif" >f(Hz)</text>
<polyline points="41.2,395 42,398 43,400.5 44.5,402.3 46.5,403.3 49,403.6 55,403.8 60,403.4 64,403.8 68,403 70,403.7 72,402 73,402.8 74,400.5 75,401.5 76,399.5 77,388 77.8,384.5 78.7,390 79.5,370 80.4,345.5 81.8,366 82.8,390 83.3,397 84.5,398.5 85.5,399 87,401 89,402.8 91,403.6 96,403.8 100,403.4 104,403.6 107,403.5 110,402.5 113.1,400 115.3,399.3 116.3,400.5 117.2,396.4 118.2,395 119,397 120.4,392.7 121.2,396 121.8,399.3 123,403.6 124.5,402.8 126.2,401.9 128,402.8 129.8,403.6 133,403.3 134.9,401.9 136.5,402.5 137.8,401.5 139.2,402.6 140.7,403.6 144,403.4 146.5,401.5 148,402.6 149.5,403.6 153,403.6 154.5,402.5 156,400 157,401.3 158.2,399.3 159.5,401 161.1,399.5 162.5,401.8 164,403.6 170,403.6 175,403.7 183,403.5 184.5,402.4 186,402.8 187.5,402.3 189,403.4 195,403.6 200,403.8 203,403.2 205,403.7 210,403.5 214,402.8 216,403.6 224,403.7 230,403.2 232,403.7 240,403.5 244,402.9 246,403.6 252,403.5 256,403 258,403.7 266,403.4 270,403.8 274.5,403.6" fill="none" stroke="#111" stroke-width="1.3" stroke-linejoin="round" />
<text x="83.3" y="351.7" font-size="9" font-family="Liberation Serif">0.92</text>
<text transform="translate(99.1,351.7) scale(0.78,1)" font-size="9.6" font-family="Liberation Serif">ω</text>
<text x="104.3" y="353.6" font-size="6.6" font-family="Liberation Serif">l</text>
<text x="110.8" y="395.4" font-size="8.8" font-family="Liberation Serif">1.84</text>
<text x="124.6" y="395.4" font-size="9.2" font-family="Liberation Serif">ω</text>
<text x="131.5" y="397.2" font-size="6.6" font-family="Liberation Serif">l</text>
<text transform="translate(18.2,377.4) rotate(-90)" font-size="14.5" font-family="Liberation Serif"><tspan x="0">a</tspan><tspan x="8.6">.</tspan><tspan x="15.7">u</tspan><tspan x="24.3">.</tspan></text>
<line x1="306.85" y1="325.7" x2="541.3" y2="325.7" stroke="#000" stroke-width="1.35"/>
<line x1="540.7" y1="325.7" x2="540.7" y2="405.15" stroke="#000" stroke-width="1.35"/>
<line x1="307.45" y1="325.7" x2="307.45" y2="404.55" stroke="#9a9a9a" stroke-width="1.0"/>
<line x1="307.45" y1="404.55" x2="540.7" y2="404.55" stroke="#9a9a9a" stroke-width="1.2"/>
<line x1="330.77" y1="325.7" x2="330.77" y2="327.4" stroke="#000" stroke-width="1.15"/>
<line x1="354.1" y1="325.7" x2="354.1" y2="329.1" stroke="#000" stroke-width="1.15"/>
<line x1="377.43" y1="325.7" x2="377.43" y2="327.4" stroke="#000" stroke-width="1.15"/>
<line x1="400.75" y1="325.7" x2="400.75" y2="329.1" stroke="#000" stroke-width="1.15"/>
<line x1="424.08" y1="325.7" x2="424.08" y2="327.4" stroke="#000" stroke-width="1.15"/>
<line x1="447.4" y1="325.7" x2="447.4" y2="329.1" stroke="#000" stroke-width="1.15"/>
<line x1="470.73" y1="325.7" x2="470.73" y2="327.4" stroke="#000" stroke-width="1.15"/>
<line x1="494.05" y1="325.7" x2="494.05" y2="329.1" stroke="#000" stroke-width="1.15"/>
<line x1="517.38" y1="325.7" x2="517.38" y2="327.4" stroke="#000" stroke-width="1.15"/>
<line x1="540.7" y1="335.56" x2="539" y2="335.56" stroke="#000" stroke-width="1.15"/>
<line x1="540.7" y1="345.41" x2="537.3" y2="345.41" stroke="#000" stroke-width="1.15"/>
<line x1="540.7" y1="355.27" x2="539" y2="355.27" stroke="#000" stroke-width="1.15"/>
<line x1="540.7" y1="365.12" x2="537.3" y2="365.12" stroke="#000" stroke-width="1.15"/>
<line x1="540.7" y1="374.98" x2="539" y2="374.98" stroke="#000" stroke-width="1.15"/>
<line x1="540.7" y1="384.84" x2="537.3" y2="384.84" stroke="#000" stroke-width="1.15"/>
<line x1="540.7" y1="394.69" x2="539" y2="394.69" stroke="#000" stroke-width="1.15"/>
<line x1="303.95" y1="404.55" x2="307.45" y2="404.55" stroke="#9a9a9a" stroke-width="1.0"/>
<line x1="303.95" y1="384.84" x2="307.45" y2="384.84" stroke="#9a9a9a" stroke-width="1.0"/>
<line x1="303.95" y1="365.12" x2="307.45" y2="365.12" stroke="#9a9a9a" stroke-width="1.0"/>
<line x1="303.95" y1="345.41" x2="307.45" y2="345.41" stroke="#9a9a9a" stroke-width="1.0"/>
<line x1="303.95" y1="325.7" x2="307.45" y2="325.7" stroke="#9a9a9a" stroke-width="1.0"/>
<line x1="305.75" y1="394.69" x2="307.45" y2="394.69" stroke="#9a9a9a" stroke-width="1.0"/>
<line x1="305.75" y1="374.98" x2="307.45" y2="374.98" stroke="#9a9a9a" stroke-width="1.0"/>
<line x1="305.75" y1="355.27" x2="307.45" y2="355.27" stroke="#9a9a9a" stroke-width="1.0"/>
<line x1="305.75" y1="335.56" x2="307.45" y2="335.56" stroke="#9a9a9a" stroke-width="1.0"/>
<line x1="307.45" y1="404.55" x2="307.45" y2="408.15" stroke="#9a9a9a" stroke-width="1.0"/>
<line x1="354.1" y1="404.55" x2="354.1" y2="408.15" stroke="#9a9a9a" stroke-width="1.0"/>
<line x1="400.75" y1="404.55" x2="400.75" y2="408.15" stroke="#9a9a9a" stroke-width="1.0"/>
<line x1="447.4" y1="404.55" x2="447.4" y2="408.15" stroke="#9a9a9a" stroke-width="1.0"/>
<line x1="494.05" y1="404.55" x2="494.05" y2="408.15" stroke="#9a9a9a" stroke-width="1.0"/>
<line x1="540.7" y1="404.55" x2="540.7" y2="408.15" stroke="#9a9a9a" stroke-width="1.0"/>
<line x1="330.77" y1="404.55" x2="330.77" y2="406.25" stroke="#9a9a9a" stroke-width="1.0"/>
<line x1="377.43" y1="404.55" x2="377.43" y2="406.25" stroke="#9a9a9a" stroke-width="1.0"/>
<line x1="424.08" y1="404.55" x2="424.08" y2="406.25" stroke="#9a9a9a" stroke-width="1.0"/>
<line x1="470.73" y1="404.55" x2="470.73" y2="406.25" stroke="#9a9a9a" stroke-width="1.0"/>
<line x1="517.38" y1="404.55" x2="517.38" y2="406.25" stroke="#9a9a9a" stroke-width="1.0"/>
<text x="302.6" y="407.95" font-size="10.5" text-anchor="end" font-family="Liberation Serif" >0. 000</text>
<text x="302.6" y="388.24" font-size="10.5" text-anchor="end" font-family="Liberation Serif" >0. 025</text>
<text x="302.6" y="368.52" font-size="10.5" text-anchor="end" font-family="Liberation Serif" >0. 050</text>
<text x="302.6" y="348.81" font-size="10.5" text-anchor="end" font-family="Liberation Serif" >0. 075</text>
<text x="302.6" y="329.1" font-size="10.5" text-anchor="end" font-family="Liberation Serif" >0. 100</text>
<text x="307.45" y="418.75" font-size="10.5" text-anchor="middle" font-family="Liberation Serif" >0. 0</text>
<text x="354.1" y="418.75" font-size="10.5" text-anchor="middle" font-family="Liberation Serif" >1. 2</text>
<text x="400.75" y="418.75" font-size="10.5" text-anchor="middle" font-family="Liberation Serif" >2. 4</text>
<text x="447.4" y="418.75" font-size="10.5" text-anchor="middle" font-family="Liberation Serif" >3. 6</text>
<text x="494.05" y="418.75" font-size="10.5" text-anchor="middle" font-family="Liberation Serif" >4. 8</text>
<text x="540.7" y="418.75" font-size="10.5" text-anchor="middle" font-family="Liberation Serif" >6. 0</text>
<text x="424.08" y="433.95" font-size="12" text-anchor="middle" font-family="Liberation Serif" >f(Hz)</text>
<polyline points="307.5,399.2 308.3,401 309.3,402.5 311,403.4 320,403.5 330,403.4 331,402.9 331.5,402.61 332.1,402.53 332.7,402.45 333.3,402.36 333.9,402.26 334.5,402.16 335.1,402.04 335.7,401.91 336.3,401.77 336.9,401.62 337.5,401.45 338.1,401.26 338.7,401.06 339.3,400.83 339.9,400.57 340.5,399.88 341.1,399.56 341.7,399.2 342.3,398.79 342.9,398.32 343.5,397.78 344.1,397.15 344.7,396.41 345.3,395.49 345.9,394.33 346.5,392.77 346.75,391.94 347,390.96 347.25,389.79 347.5,388.36 347.75,386.6 348,384.37 348.25,381.53 348.5,377.85 348.75,373.1 349,367.04 349.25,359.7 349.5,351.77 349.75,345.16 350,342.5 350.25,345.16 350.5,351.77 350.75,359.7 351,367.04 351.25,373.1 351.5,377.85 351.75,381.53 352,384.37 352.25,386.6 352.5,388.36 352.75,389.79 353,390.96 353.25,391.94 353.5,392.77 353.75,393.48 354,394.1 354.6,395.32 355.2,396.27 355.8,397.04 356.4,397.68 357,398.23 357.6,398.71 358.2,399.13 358.8,399.5 359.4,399.83 360,400.12 360.6,400.38 361.2,400.62 361.8,400.83 362.4,401.02 363,401.19 363.6,401.35 364.2,401.49 364.8,401.62 365.4,401.74 366,401.85 366.6,401.94 367.2,402.04 367.8,402.12 368.4,402.19 369,402.27 369.6,402.33 370.2,402.39 370.8,402.45 371.4,402.5 375,403.3 378,403.6 385,403.4 392,403.6 393.9,402.8 395.5,403.6 405,403.6 420,403.5 432,403.4 434.5,402.6 436.7,402.1 438.5,402.8 440,403.5 460,403.6 480,403.5 500,403.6 520,403.5 540.5,403.6" fill="none" stroke="#111" stroke-width="1.3" stroke-linejoin="round" />
<text x="355.8" y="353.9" font-size="9.6" font-family="Liberation Serif">ω<tspan font-size="6.8" dy="1.6">l</tspan></text>
</svg>
</body></html>
